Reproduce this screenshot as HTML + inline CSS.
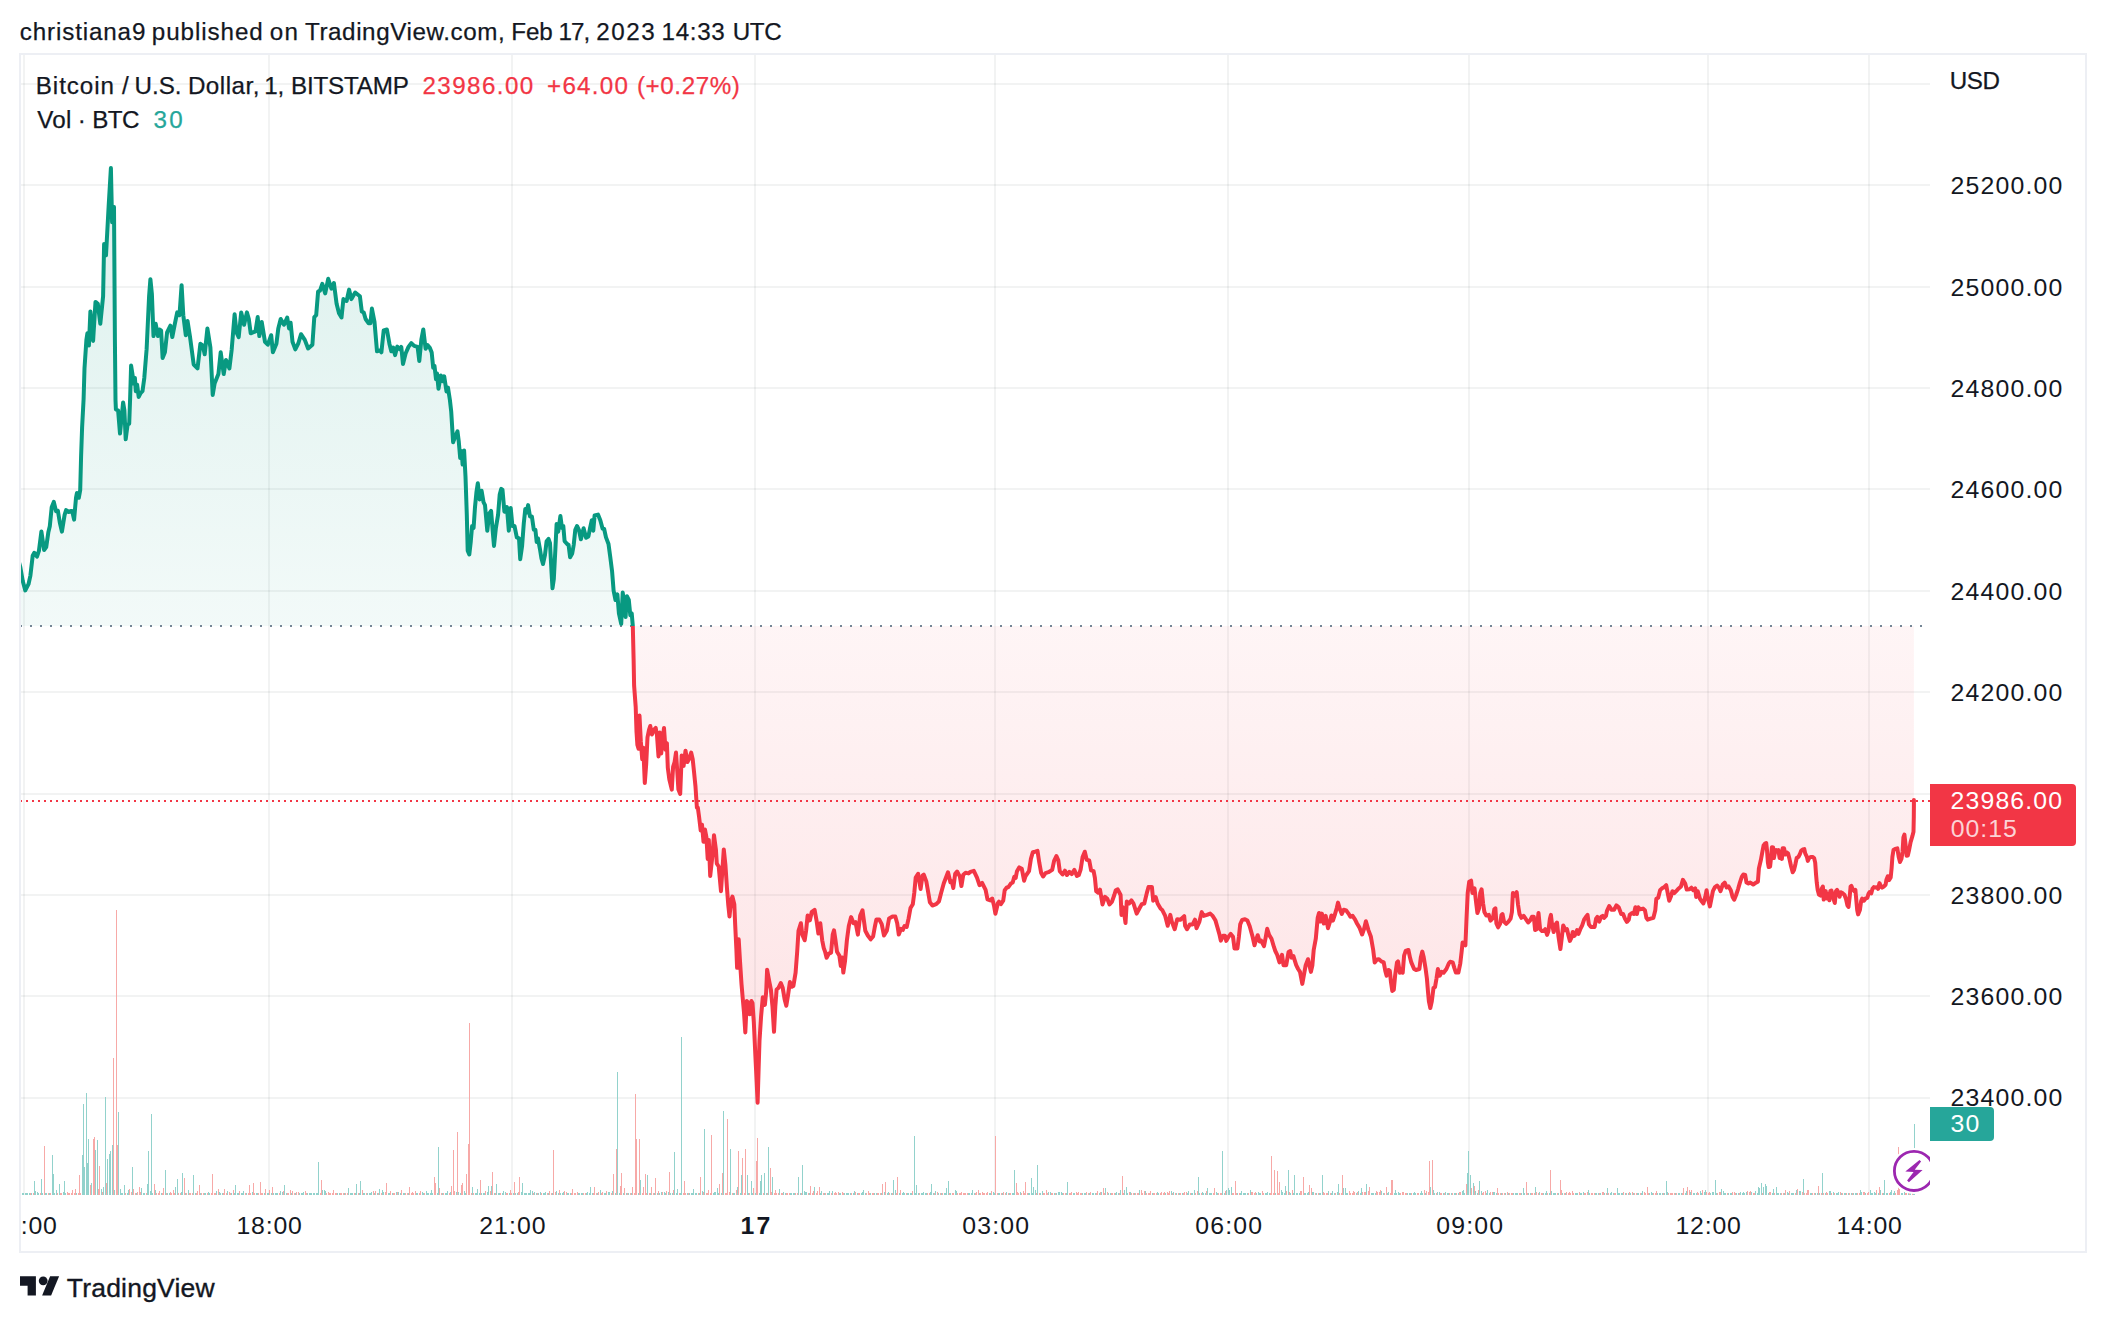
<!DOCTYPE html>
<html lang="en"><head><meta charset="utf-8"><title>BTCUSD chart snapshot</title>
<style>
html,body{margin:0;padding:0;background:#fff}
body{width:2106px;height:1322px;overflow:hidden}
svg{display:block}
text{font-family:"Liberation Sans", sans-serif;font-size:24.8px;fill:#131722}
text.l{font-size:24.2px}
</style></head><body>
<svg width="2106" height="1322" viewBox="0 0 2106 1322">
<defs>
<linearGradient id="gg" gradientUnits="userSpaceOnUse" x1="0" y1="-514" x2="0" y2="626">
<stop offset="0" stop-color="#089981" stop-opacity="0.28"/><stop offset="1" stop-color="#089981" stop-opacity="0.05"/></linearGradient>
<linearGradient id="rg" gradientUnits="userSpaceOnUse" x1="0" y1="626" x2="0" y2="1766">
<stop offset="0" stop-color="#F23645" stop-opacity="0.05"/><stop offset="1" stop-color="#F23645" stop-opacity="0.28"/></linearGradient>
<clipPath id="cTop"><rect x="21" y="55" width="1909" height="571"/></clipPath>
<clipPath id="cBot"><rect x="21" y="626" width="1909" height="569"/></clipPath>
<clipPath id="cPane2"><rect x="0" y="0" width="21" height="1200"/><rect x="21" y="0" width="2085" height="1322"/></clipPath>
<clipPath id="cPane"><rect x="21" y="55" width="1909" height="1198"/></clipPath>
</defs>
<rect width="2106" height="1322" fill="#fff"/>
<rect x="20" y="54" width="2066" height="1198" fill="none" stroke="#edeff4" stroke-width="2"/>
<g fill="rgba(42,46,57,0.06)" clip-path="url(#cPane)"><rect x="23" y="55" width="2" height="1140"/><rect x="268" y="55" width="2" height="1140"/><rect x="511" y="55" width="2" height="1140"/><rect x="754" y="55" width="2" height="1140"/><rect x="994" y="55" width="2" height="1140"/><rect x="1227" y="55" width="2" height="1140"/><rect x="1468" y="55" width="2" height="1140"/><rect x="1707" y="55" width="2" height="1140"/><rect x="1868" y="55" width="2" height="1140"/><rect x="21" y="83" width="1909" height="2"/><rect x="21" y="184" width="1909" height="2"/><rect x="21" y="286" width="1909" height="2"/><rect x="21" y="387" width="1909" height="2"/><rect x="21" y="488" width="1909" height="2"/><rect x="21" y="590" width="1909" height="2"/><rect x="21" y="691" width="1909" height="2"/><rect x="21" y="793" width="1909" height="2"/><rect x="21" y="894" width="1909" height="2"/><rect x="21" y="995" width="1909" height="2"/><rect x="21" y="1097" width="1909" height="2"/></g>
<path d="M22 1195v-2h1v2zM23 1195v-2h1v2zM25 1195v-2h1v2zM26 1195v-2h1v2zM27 1195v-2h1v2zM29 1195v-2h1v2zM31 1195v-2h1v2zM34 1195v-14h1v14zM35 1195v-4h1v4zM37 1195v-3h1v3zM38 1195v-2h1v2zM41 1195v-16h1v16zM42 1195v-2h1v2zM45 1195v-2h1v2zM46 1195v-2h1v2zM49 1195v-2h1v2zM52 1195v-40h1v40zM53 1195v-21h1v21zM54 1195v-2h1v2zM56 1195v-5h1v5zM59 1195v-11h1v11zM63 1195v-3h1v3zM64 1195v-14h1v14zM65 1195v-2h1v2zM76 1195v-2h1v2zM82 1195v-40h1v40zM83 1195v-91h1v91zM84 1195v-28h1v28zM86 1195v-102h1v102zM87 1195v-32h1v32zM88 1195v-56h1v56zM91 1195v-12h1v12zM95 1195v-45h1v45zM97 1195v-55h1v55zM101 1195v-6h1v6zM103 1195v-8h1v8zM105 1195v-98h1v98zM107 1195v-36h1v36zM109 1195v-41h1v41zM110 1195v-44h1v44zM112 1195v-50h1v50zM114 1195v-5h1v5zM118 1195v-83h1v83zM120 1195v-6h1v6zM121 1195v-2h1v2zM122 1195v-2h1v2zM124 1195v-10h1v10zM127 1195v-2h1v2zM128 1195v-5h1v5zM132 1195v-28h1v28zM136 1195v-2h1v2zM141 1195v-7h1v7zM143 1195v-2h1v2zM144 1195v-2h1v2zM147 1195v-11h1v11zM148 1195v-44h1v44zM150 1195v-4h1v4zM151 1195v-81h1v81zM152 1195v-2h1v2zM155 1195v-5h1v5zM161 1195v-2h1v2zM165 1195v-25h1v25zM167 1195v-2h1v2zM169 1195v-2h1v2zM175 1195v-8h1v8zM177 1195v-16h1v16zM181 1195v-3h1v3zM182 1195v-22h1v22zM185 1195v-2h1v2zM188 1195v-5h1v5zM193 1195v-20h1v20zM195 1195v-2h1v2zM200 1195v-2h1v2zM204 1195v-2h1v2zM205 1195v-2h1v2zM208 1195v-3h1v3zM209 1195v-2h1v2zM216 1195v-4h1v4zM219 1195v-3h1v3zM220 1195v-2h1v2zM222 1195v-2h1v2zM227 1195v-4h1v4zM231 1195v-2h1v2zM234 1195v-2h1v2zM235 1195v-10h1v10zM237 1195v-2h1v2zM238 1195v-2h1v2zM241 1195v-2h1v2zM242 1195v-2h1v2zM243 1195v-4h1v4zM246 1195v-2h1v2zM252 1195v-3h1v3zM256 1195v-2h1v2zM257 1195v-2h1v2zM264 1195v-2h1v2zM267 1195v-2h1v2zM268 1195v-2h1v2zM271 1195v-2h1v2zM273 1195v-2h1v2zM275 1195v-2h1v2zM276 1195v-2h1v2zM277 1195v-2h1v2zM280 1195v-4h1v4zM282 1195v-3h1v3zM284 1195v-10h1v10zM286 1195v-2h1v2zM291 1195v-2h1v2zM295 1195v-2h1v2zM299 1195v-2h1v2zM301 1195v-2h1v2zM302 1195v-2h1v2zM303 1195v-3h1v3zM307 1195v-2h1v2zM309 1195v-2h1v2zM310 1195v-2h1v2zM311 1195v-2h1v2zM313 1195v-2h1v2zM314 1195v-2h1v2zM316 1195v-2h1v2zM317 1195v-2h1v2zM318 1195v-33h1v33zM322 1195v-5h1v5zM324 1195v-5h1v5zM325 1195v-4h1v4zM337 1195v-2h1v2zM339 1195v-2h1v2zM344 1195v-2h1v2zM348 1195v-7h1v7zM350 1195v-2h1v2zM351 1195v-2h1v2zM352 1195v-2h1v2zM355 1195v-2h1v2zM356 1195v-11h1v11zM359 1195v-2h1v2zM360 1195v-14h1v14zM363 1195v-2h1v2zM364 1195v-2h1v2zM367 1195v-2h1v2zM369 1195v-2h1v2zM370 1195v-2h1v2zM371 1195v-3h1v3zM374 1195v-2h1v2zM377 1195v-2h1v2zM379 1195v-6h1v6zM382 1195v-5h1v5zM383 1195v-3h1v3zM388 1195v-2h1v2zM389 1195v-2h1v2zM392 1195v-2h1v2zM396 1195v-3h1v3zM398 1195v-3h1v3zM400 1195v-2h1v2zM403 1195v-2h1v2zM404 1195v-2h1v2zM408 1195v-2h1v2zM416 1195v-2h1v2zM417 1195v-2h1v2zM422 1195v-3h1v3zM423 1195v-2h1v2zM426 1195v-4h1v4zM427 1195v-2h1v2zM428 1195v-2h1v2zM430 1195v-2h1v2zM431 1195v-5h1v5zM432 1195v-2h1v2zM437 1195v-2h1v2zM438 1195v-48h1v48zM442 1195v-2h1v2zM445 1195v-2h1v2zM446 1195v-2h1v2zM447 1195v-4h1v4zM450 1195v-3h1v3zM456 1195v-3h1v3zM458 1195v-3h1v3zM460 1195v-2h1v2zM464 1195v-4h1v4zM465 1195v-2h1v2zM472 1195v-8h1v8zM475 1195v-2h1v2zM476 1195v-2h1v2zM477 1195v-6h1v6zM479 1195v-2h1v2zM481 1195v-2h1v2zM483 1195v-2h1v2zM484 1195v-2h1v2zM487 1195v-3h1v3zM488 1195v-9h1v9zM491 1195v-9h1v9zM494 1195v-2h1v2zM496 1195v-11h1v11zM498 1195v-2h1v2zM499 1195v-2h1v2zM502 1195v-2h1v2zM503 1195v-4h1v4zM505 1195v-3h1v3zM509 1195v-2h1v2zM513 1195v-2h1v2zM515 1195v-2h1v2zM517 1195v-2h1v2zM521 1195v-3h1v3zM522 1195v-12h1v12zM524 1195v-2h1v2zM525 1195v-2h1v2zM526 1195v-2h1v2zM528 1195v-2h1v2zM529 1195v-2h1v2zM530 1195v-5h1v5zM532 1195v-4h1v4zM534 1195v-3h1v3zM536 1195v-2h1v2zM538 1195v-2h1v2zM540 1195v-3h1v3zM543 1195v-2h1v2zM544 1195v-2h1v2zM545 1195v-3h1v3zM548 1195v-2h1v2zM552 1195v-2h1v2zM556 1195v-4h1v4zM558 1195v-2h1v2zM560 1195v-2h1v2zM562 1195v-2h1v2zM563 1195v-3h1v3zM567 1195v-2h1v2zM568 1195v-2h1v2zM570 1195v-2h1v2zM578 1195v-2h1v2zM579 1195v-2h1v2zM581 1195v-2h1v2zM582 1195v-2h1v2zM586 1195v-2h1v2zM587 1195v-3h1v3zM589 1195v-2h1v2zM590 1195v-8h1v8zM592 1195v-2h1v2zM597 1195v-2h1v2zM600 1195v-5h1v5zM604 1195v-2h1v2zM605 1195v-2h1v2zM608 1195v-3h1v3zM609 1195v-3h1v3zM612 1195v-4h1v4zM615 1195v-2h1v2zM617 1195v-123h1v123zM619 1195v-2h1v2zM623 1195v-2h1v2zM626 1195v-2h1v2zM628 1195v-2h1v2zM631 1195v-2h1v2zM638 1195v-2h1v2zM640 1195v-15h1v15zM647 1195v-20h1v20zM650 1195v-2h1v2zM654 1195v-2h1v2zM657 1195v-2h1v2zM659 1195v-2h1v2zM661 1195v-3h1v3zM664 1195v-3h1v3zM665 1195v-2h1v2zM668 1195v-3h1v3zM670 1195v-2h1v2zM672 1195v-2h1v2zM674 1195v-43h1v43zM676 1195v-2h1v2zM677 1195v-6h1v6zM680 1195v-2h1v2zM681 1195v-158h1v158zM687 1195v-2h1v2zM689 1195v-2h1v2zM691 1195v-2h1v2zM692 1195v-2h1v2zM693 1195v-6h1v6zM695 1195v-2h1v2zM696 1195v-2h1v2zM699 1195v-2h1v2zM702 1195v-4h1v4zM704 1195v-66h1v66zM713 1195v-2h1v2zM714 1195v-3h1v3zM715 1195v-3h1v3zM717 1195v-7h1v7zM718 1195v-2h1v2zM721 1195v-2h1v2zM723 1195v-84h1v84zM730 1195v-46h1v46zM733 1195v-2h1v2zM734 1195v-2h1v2zM737 1195v-8h1v8zM740 1195v-2h1v2zM741 1195v-20h1v20zM747 1195v-20h1v20zM748 1195v-2h1v2zM751 1195v-14h1v14zM752 1195v-2h1v2zM755 1195v-2h1v2zM759 1195v-2h1v2zM760 1195v-14h1v14zM761 1195v-20h1v20zM764 1195v-22h1v22zM766 1195v-2h1v2zM768 1195v-48h1v48zM772 1195v-18h1v18zM779 1195v-6h1v6zM783 1195v-3h1v3zM785 1195v-2h1v2zM790 1195v-2h1v2zM791 1195v-2h1v2zM793 1195v-2h1v2zM794 1195v-2h1v2zM798 1195v-18h1v18zM800 1195v-2h1v2zM802 1195v-30h1v30zM804 1195v-4h1v4zM805 1195v-3h1v3zM806 1195v-3h1v3zM809 1195v-2h1v2zM814 1195v-8h1v8zM820 1195v-2h1v2zM821 1195v-4h1v4zM824 1195v-2h1v2zM827 1195v-2h1v2zM828 1195v-2h1v2zM829 1195v-4h1v4zM832 1195v-4h1v4zM839 1195v-2h1v2zM840 1195v-2h1v2zM844 1195v-2h1v2zM846 1195v-2h1v2zM847 1195v-2h1v2zM848 1195v-2h1v2zM850 1195v-2h1v2zM853 1195v-2h1v2zM854 1195v-4h1v4zM857 1195v-2h1v2zM861 1195v-2h1v2zM862 1195v-3h1v3zM863 1195v-5h1v5zM865 1195v-2h1v2zM870 1195v-2h1v2zM874 1195v-2h1v2zM876 1195v-2h1v2zM881 1195v-2h1v2zM884 1195v-3h1v3zM887 1195v-2h1v2zM888 1195v-3h1v3zM891 1195v-2h1v2zM893 1195v-15h1v15zM895 1195v-5h1v5zM899 1195v-2h1v2zM902 1195v-2h1v2zM903 1195v-3h1v3zM904 1195v-2h1v2zM907 1195v-2h1v2zM908 1195v-2h1v2zM910 1195v-2h1v2zM911 1195v-2h1v2zM914 1195v-59h1v59zM915 1195v-2h1v2zM916 1195v-10h1v10zM918 1195v-2h1v2zM921 1195v-2h1v2zM922 1195v-2h1v2zM923 1195v-3h1v3zM925 1195v-2h1v2zM926 1195v-2h1v2zM930 1195v-3h1v3zM931 1195v-11h1v11zM933 1195v-2h1v2zM935 1195v-4h1v4zM938 1195v-2h1v2zM941 1195v-2h1v2zM944 1195v-2h1v2zM945 1195v-2h1v2zM946 1195v-7h1v7zM948 1195v-14h1v14zM950 1195v-2h1v2zM955 1195v-5h1v5zM956 1195v-4h1v4zM968 1195v-2h1v2zM969 1195v-2h1v2zM971 1195v-2h1v2zM972 1195v-5h1v5zM974 1195v-2h1v2zM979 1195v-2h1v2zM989 1195v-2h1v2zM990 1195v-2h1v2zM993 1195v-3h1v3zM994 1195v-2h1v2zM998 1195v-2h1v2zM999 1195v-2h1v2zM1002 1195v-2h1v2zM1006 1195v-3h1v3zM1009 1195v-2h1v2zM1012 1195v-2h1v2zM1013 1195v-2h1v2zM1014 1195v-25h1v25zM1020 1195v-3h1v3zM1028 1195v-2h1v2zM1029 1195v-2h1v2zM1031 1195v-17h1v17zM1032 1195v-2h1v2zM1033 1195v-8h1v8zM1035 1195v-5h1v5zM1037 1195v-30h1v30zM1040 1195v-2h1v2zM1042 1195v-4h1v4zM1048 1195v-3h1v3zM1050 1195v-3h1v3zM1054 1195v-2h1v2zM1056 1195v-2h1v2zM1058 1195v-3h1v3zM1059 1195v-3h1v3zM1061 1195v-3h1v3zM1062 1195v-2h1v2zM1066 1195v-2h1v2zM1067 1195v-13h1v13zM1073 1195v-2h1v2zM1074 1195v-2h1v2zM1082 1195v-2h1v2zM1084 1195v-2h1v2zM1085 1195v-2h1v2zM1089 1195v-2h1v2zM1092 1195v-2h1v2zM1093 1195v-2h1v2zM1095 1195v-2h1v2zM1099 1195v-2h1v2zM1101 1195v-3h1v3zM1105 1195v-7h1v7zM1108 1195v-2h1v2zM1110 1195v-2h1v2zM1115 1195v-2h1v2zM1116 1195v-3h1v3zM1118 1195v-2h1v2zM1120 1195v-5h1v5zM1124 1195v-5h1v5zM1126 1195v-8h1v8zM1127 1195v-2h1v2zM1130 1195v-3h1v3zM1134 1195v-2h1v2zM1139 1195v-5h1v5zM1145 1195v-4h1v4zM1152 1195v-2h1v2zM1157 1195v-3h1v3zM1158 1195v-2h1v2zM1165 1195v-2h1v2zM1171 1195v-4h1v4zM1173 1195v-3h1v3zM1176 1195v-2h1v2zM1179 1195v-2h1v2zM1182 1195v-2h1v2zM1187 1195v-2h1v2zM1188 1195v-4h1v4zM1191 1195v-2h1v2zM1192 1195v-2h1v2zM1194 1195v-5h1v5zM1198 1195v-18h1v18zM1199 1195v-2h1v2zM1202 1195v-3h1v3zM1203 1195v-2h1v2zM1205 1195v-2h1v2zM1207 1195v-7h1v7zM1209 1195v-2h1v2zM1210 1195v-2h1v2zM1211 1195v-2h1v2zM1216 1195v-3h1v3zM1217 1195v-2h1v2zM1222 1195v-44h1v44zM1224 1195v-2h1v2zM1226 1195v-5h1v5zM1228 1195v-7h1v7zM1229 1195v-5h1v5zM1231 1195v-8h1v8zM1237 1195v-2h1v2zM1240 1195v-2h1v2zM1241 1195v-4h1v4zM1243 1195v-2h1v2zM1244 1195v-2h1v2zM1245 1195v-2h1v2zM1247 1195v-2h1v2zM1250 1195v-5h1v5zM1256 1195v-2h1v2zM1258 1195v-3h1v3zM1259 1195v-2h1v2zM1260 1195v-2h1v2zM1265 1195v-2h1v2zM1266 1195v-2h1v2zM1267 1195v-3h1v3zM1269 1195v-2h1v2zM1275 1195v-2h1v2zM1281 1195v-5h1v5zM1282 1195v-3h1v3zM1284 1195v-2h1v2zM1285 1195v-9h1v9zM1288 1195v-25h1v25zM1290 1195v-2h1v2zM1293 1195v-2h1v2zM1294 1195v-20h1v20zM1296 1195v-2h1v2zM1297 1195v-2h1v2zM1299 1195v-2h1v2zM1304 1195v-2h1v2zM1305 1195v-2h1v2zM1307 1195v-2h1v2zM1308 1195v-3h1v3zM1312 1195v-3h1v3zM1313 1195v-3h1v3zM1316 1195v-2h1v2zM1319 1195v-2h1v2zM1320 1195v-2h1v2zM1322 1195v-20h1v20zM1328 1195v-4h1v4zM1331 1195v-2h1v2zM1332 1195v-4h1v4zM1334 1195v-2h1v2zM1337 1195v-3h1v3zM1338 1195v-11h1v11zM1343 1195v-7h1v7zM1345 1195v-7h1v7zM1346 1195v-2h1v2zM1347 1195v-2h1v2zM1356 1195v-2h1v2zM1358 1195v-4h1v4zM1360 1195v-2h1v2zM1361 1195v-7h1v7zM1366 1195v-11h1v11zM1371 1195v-2h1v2zM1372 1195v-2h1v2zM1373 1195v-2h1v2zM1375 1195v-2h1v2zM1381 1195v-4h1v4zM1383 1195v-2h1v2zM1387 1195v-2h1v2zM1388 1195v-3h1v3zM1394 1195v-2h1v2zM1395 1195v-5h1v5zM1396 1195v-2h1v2zM1398 1195v-3h1v3zM1399 1195v-2h1v2zM1407 1195v-2h1v2zM1409 1195v-2h1v2zM1410 1195v-2h1v2zM1413 1195v-2h1v2zM1414 1195v-3h1v3zM1415 1195v-2h1v2zM1420 1195v-2h1v2zM1421 1195v-4h1v4zM1422 1195v-2h1v2zM1425 1195v-2h1v2zM1430 1195v-8h1v8zM1433 1195v-5h1v5zM1434 1195v-2h1v2zM1437 1195v-3h1v3zM1439 1195v-3h1v3zM1443 1195v-2h1v2zM1445 1195v-3h1v3zM1447 1195v-2h1v2zM1448 1195v-2h1v2zM1451 1195v-2h1v2zM1454 1195v-2h1v2zM1455 1195v-2h1v2zM1458 1195v-2h1v2zM1462 1195v-4h1v4zM1463 1195v-5h1v5zM1464 1195v-2h1v2zM1467 1195v-22h1v22zM1468 1195v-44h1v44zM1470 1195v-20h1v20zM1473 1195v-12h1v12zM1475 1195v-4h1v4zM1477 1195v-2h1v2zM1479 1195v-14h1v14zM1481 1195v-4h1v4zM1486 1195v-2h1v2zM1487 1195v-5h1v5zM1489 1195v-2h1v2zM1493 1195v-3h1v3zM1494 1195v-3h1v3zM1496 1195v-2h1v2zM1501 1195v-2h1v2zM1505 1195v-2h1v2zM1508 1195v-2h1v2zM1513 1195v-2h1v2zM1515 1195v-2h1v2zM1516 1195v-2h1v2zM1517 1195v-2h1v2zM1521 1195v-2h1v2zM1523 1195v-7h1v7zM1524 1195v-2h1v2zM1528 1195v-2h1v2zM1530 1195v-2h1v2zM1535 1195v-8h1v8zM1539 1195v-3h1v3zM1543 1195v-2h1v2zM1545 1195v-2h1v2zM1546 1195v-4h1v4zM1549 1195v-2h1v2zM1551 1195v-4h1v4zM1553 1195v-2h1v2zM1554 1195v-2h1v2zM1555 1195v-2h1v2zM1558 1195v-2h1v2zM1562 1195v-2h1v2zM1565 1195v-2h1v2zM1575 1195v-2h1v2zM1576 1195v-2h1v2zM1577 1195v-2h1v2zM1580 1195v-2h1v2zM1581 1195v-2h1v2zM1583 1195v-3h1v3zM1588 1195v-5h1v5zM1589 1195v-2h1v2zM1595 1195v-2h1v2zM1596 1195v-2h1v2zM1598 1195v-2h1v2zM1600 1195v-2h1v2zM1604 1195v-2h1v2zM1607 1195v-7h1v7zM1610 1195v-2h1v2zM1611 1195v-3h1v3zM1613 1195v-2h1v2zM1617 1195v-7h1v7zM1618 1195v-2h1v2zM1619 1195v-2h1v2zM1621 1195v-2h1v2zM1622 1195v-2h1v2zM1625 1195v-2h1v2zM1628 1195v-2h1v2zM1630 1195v-2h1v2zM1633 1195v-2h1v2zM1637 1195v-2h1v2zM1638 1195v-2h1v2zM1641 1195v-2h1v2zM1642 1195v-4h1v4zM1649 1195v-2h1v2zM1651 1195v-3h1v3zM1652 1195v-2h1v2zM1657 1195v-2h1v2zM1659 1195v-2h1v2zM1660 1195v-2h1v2zM1662 1195v-2h1v2zM1664 1195v-2h1v2zM1666 1195v-14h1v14zM1667 1195v-3h1v3zM1675 1195v-2h1v2zM1678 1195v-2h1v2zM1679 1195v-2h1v2zM1681 1195v-2h1v2zM1685 1195v-2h1v2zM1686 1195v-4h1v4zM1690 1195v-3h1v3zM1693 1195v-2h1v2zM1694 1195v-2h1v2zM1696 1195v-2h1v2zM1700 1195v-4h1v4zM1701 1195v-2h1v2zM1704 1195v-3h1v3zM1705 1195v-5h1v5zM1710 1195v-2h1v2zM1712 1195v-3h1v3zM1713 1195v-3h1v3zM1715 1195v-15h1v15zM1716 1195v-2h1v2zM1721 1195v-6h1v6zM1723 1195v-4h1v4zM1724 1195v-2h1v2zM1725 1195v-2h1v2zM1728 1195v-2h1v2zM1730 1195v-2h1v2zM1731 1195v-2h1v2zM1736 1195v-2h1v2zM1738 1195v-2h1v2zM1740 1195v-3h1v3zM1742 1195v-2h1v2zM1743 1195v-3h1v3zM1744 1195v-2h1v2zM1746 1195v-3h1v3zM1751 1195v-3h1v3zM1755 1195v-4h1v4zM1757 1195v-2h1v2zM1758 1195v-8h1v8zM1759 1195v-7h1v7zM1761 1195v-12h1v12zM1763 1195v-8h1v8zM1765 1195v-11h1v11zM1766 1195v-9h1v9zM1768 1195v-2h1v2zM1772 1195v-2h1v2zM1773 1195v-6h1v6zM1776 1195v-8h1v8zM1777 1195v-2h1v2zM1778 1195v-2h1v2zM1780 1195v-2h1v2zM1784 1195v-2h1v2zM1787 1195v-3h1v3zM1788 1195v-2h1v2zM1791 1195v-2h1v2zM1792 1195v-2h1v2zM1793 1195v-2h1v2zM1796 1195v-5h1v5zM1799 1195v-4h1v4zM1800 1195v-4h1v4zM1803 1195v-16h1v16zM1810 1195v-2h1v2zM1811 1195v-2h1v2zM1815 1195v-2h1v2zM1817 1195v-2h1v2zM1819 1195v-2h1v2zM1822 1195v-22h1v22zM1825 1195v-2h1v2zM1829 1195v-4h1v4zM1830 1195v-4h1v4zM1833 1195v-3h1v3zM1836 1195v-2h1v2zM1837 1195v-2h1v2zM1838 1195v-3h1v3zM1841 1195v-2h1v2zM1844 1195v-2h1v2zM1845 1195v-2h1v2zM1848 1195v-2h1v2zM1851 1195v-2h1v2zM1853 1195v-2h1v2zM1855 1195v-2h1v2zM1856 1195v-2h1v2zM1860 1195v-5h1v5zM1861 1195v-3h1v3zM1865 1195v-2h1v2zM1870 1195v-5h1v5zM1871 1195v-2h1v2zM1872 1195v-2h1v2zM1874 1195v-3h1v3zM1875 1195v-2h1v2zM1878 1195v-2h1v2zM1880 1195v-5h1v5zM1883 1195v-2h1v2zM1884 1195v-15h1v15zM1886 1195v-2h1v2zM1887 1195v-2h1v2zM1890 1195v-3h1v3zM1891 1195v-5h1v5zM1893 1195v-2h1v2zM1894 1195v-4h1v4zM1901 1195v-2h1v2zM1902 1195v-2h1v2zM1904 1195v-3h1v3zM1908 1195v-2h1v2zM1910 1195v-2h1v2zM1913 1195v-2h1v2zM1914 1195v-71h1v71z" fill="#92D2CC"/>
<path d="M30 1195v-2h1v2zM33 1195v-2h1v2zM40 1195v-2h1v2zM44 1195v-49h1v49zM48 1195v-2h1v2zM50 1195v-2h1v2zM57 1195v-2h1v2zM60 1195v-2h1v2zM61 1195v-2h1v2zM67 1195v-3h1v3zM68 1195v-2h1v2zM69 1195v-2h1v2zM71 1195v-2h1v2zM72 1195v-5h1v5zM74 1195v-2h1v2zM75 1195v-6h1v6zM78 1195v-2h1v2zM79 1195v-20h1v20zM80 1195v-2h1v2zM90 1195v-10h1v10zM93 1195v-56h1v56zM94 1195v-58h1v58zM98 1195v-6h1v6zM99 1195v-29h1v29zM102 1195v-3h1v3zM106 1195v-12h1v12zM113 1195v-137h1v137zM116 1195v-285h1v285zM117 1195v-50h1v50zM125 1195v-2h1v2zM129 1195v-6h1v6zM131 1195v-3h1v3zM133 1195v-6h1v6zM135 1195v-2h1v2zM137 1195v-3h1v3zM139 1195v-8h1v8zM140 1195v-3h1v3zM146 1195v-2h1v2zM154 1195v-11h1v11zM156 1195v-2h1v2zM158 1195v-2h1v2zM159 1195v-4h1v4zM162 1195v-2h1v2zM163 1195v-7h1v7zM166 1195v-2h1v2zM170 1195v-3h1v3zM171 1195v-2h1v2zM173 1195v-5h1v5zM174 1195v-2h1v2zM178 1195v-2h1v2zM180 1195v-2h1v2zM184 1195v-17h1v17zM186 1195v-2h1v2zM189 1195v-2h1v2zM190 1195v-2h1v2zM192 1195v-2h1v2zM196 1195v-2h1v2zM197 1195v-4h1v4zM199 1195v-10h1v10zM201 1195v-2h1v2zM203 1195v-2h1v2zM207 1195v-2h1v2zM211 1195v-2h1v2zM212 1195v-21h1v21zM214 1195v-2h1v2zM215 1195v-2h1v2zM218 1195v-6h1v6zM223 1195v-2h1v2zM224 1195v-6h1v6zM226 1195v-2h1v2zM229 1195v-3h1v3zM230 1195v-2h1v2zM233 1195v-5h1v5zM239 1195v-4h1v4zM245 1195v-2h1v2zM248 1195v-2h1v2zM249 1195v-10h1v10zM250 1195v-2h1v2zM253 1195v-12h1v12zM254 1195v-2h1v2zM258 1195v-2h1v2zM260 1195v-13h1v13zM261 1195v-2h1v2zM262 1195v-2h1v2zM265 1195v-6h1v6zM269 1195v-5h1v5zM272 1195v-8h1v8zM279 1195v-2h1v2zM283 1195v-4h1v4zM287 1195v-2h1v2zM288 1195v-2h1v2zM290 1195v-5h1v5zM292 1195v-4h1v4zM294 1195v-2h1v2zM296 1195v-3h1v3zM298 1195v-3h1v3zM305 1195v-4h1v4zM306 1195v-2h1v2zM320 1195v-2h1v2zM321 1195v-15h1v15zM326 1195v-2h1v2zM328 1195v-3h1v3zM329 1195v-2h1v2zM330 1195v-2h1v2zM332 1195v-2h1v2zM333 1195v-5h1v5zM335 1195v-2h1v2zM336 1195v-2h1v2zM340 1195v-2h1v2zM341 1195v-2h1v2zM343 1195v-2h1v2zM345 1195v-2h1v2zM347 1195v-2h1v2zM354 1195v-2h1v2zM358 1195v-2h1v2zM362 1195v-5h1v5zM366 1195v-2h1v2zM373 1195v-4h1v4zM375 1195v-4h1v4zM378 1195v-2h1v2zM381 1195v-2h1v2zM385 1195v-3h1v3zM386 1195v-12h1v12zM390 1195v-4h1v4zM393 1195v-2h1v2zM394 1195v-2h1v2zM397 1195v-3h1v3zM401 1195v-5h1v5zM405 1195v-2h1v2zM407 1195v-2h1v2zM409 1195v-8h1v8zM411 1195v-2h1v2zM412 1195v-3h1v3zM413 1195v-2h1v2zM415 1195v-4h1v4zM419 1195v-2h1v2zM420 1195v-4h1v4zM424 1195v-2h1v2zM434 1195v-18h1v18zM435 1195v-12h1v12zM439 1195v-7h1v7zM441 1195v-2h1v2zM443 1195v-2h1v2zM449 1195v-2h1v2zM451 1195v-9h1v9zM453 1195v-45h1v45zM454 1195v-4h1v4zM457 1195v-63h1v63zM461 1195v-10h1v10zM462 1195v-12h1v12zM466 1195v-21h1v21zM468 1195v-51h1v51zM469 1195v-172h1v172zM471 1195v-2h1v2zM473 1195v-2h1v2zM480 1195v-15h1v15zM485 1195v-4h1v4zM490 1195v-4h1v4zM492 1195v-23h1v23zM495 1195v-2h1v2zM500 1195v-2h1v2zM506 1195v-2h1v2zM507 1195v-2h1v2zM510 1195v-5h1v5zM511 1195v-2h1v2zM514 1195v-13h1v13zM518 1195v-3h1v3zM519 1195v-18h1v18zM533 1195v-2h1v2zM537 1195v-2h1v2zM541 1195v-2h1v2zM547 1195v-2h1v2zM549 1195v-4h1v4zM551 1195v-2h1v2zM553 1195v-45h1v45zM555 1195v-3h1v3zM559 1195v-5h1v5zM564 1195v-4h1v4zM566 1195v-3h1v3zM571 1195v-2h1v2zM572 1195v-6h1v6zM574 1195v-2h1v2zM575 1195v-2h1v2zM577 1195v-3h1v3zM583 1195v-2h1v2zM585 1195v-2h1v2zM593 1195v-2h1v2zM594 1195v-8h1v8zM596 1195v-2h1v2zM598 1195v-3h1v3zM601 1195v-2h1v2zM602 1195v-3h1v3zM606 1195v-4h1v4zM611 1195v-2h1v2zM613 1195v-21h1v21zM616 1195v-46h1v46zM620 1195v-9h1v9zM621 1195v-22h1v22zM624 1195v-7h1v7zM627 1195v-2h1v2zM630 1195v-2h1v2zM632 1195v-8h1v8zM634 1195v-2h1v2zM635 1195v-101h1v101zM636 1195v-56h1v56zM639 1195v-56h1v56zM642 1195v-2h1v2zM643 1195v-8h1v8zM645 1195v-21h1v21zM646 1195v-2h1v2zM649 1195v-2h1v2zM651 1195v-8h1v8zM653 1195v-2h1v2zM655 1195v-17h1v17zM658 1195v-4h1v4zM662 1195v-3h1v3zM666 1195v-4h1v4zM669 1195v-23h1v23zM673 1195v-5h1v5zM679 1195v-2h1v2zM683 1195v-2h1v2zM684 1195v-14h1v14zM685 1195v-2h1v2zM688 1195v-2h1v2zM698 1195v-2h1v2zM700 1195v-18h1v18zM703 1195v-3h1v3zM706 1195v-2h1v2zM707 1195v-2h1v2zM708 1195v-5h1v5zM710 1195v-2h1v2zM711 1195v-60h1v60zM719 1195v-11h1v11zM722 1195v-22h1v22zM725 1195v-2h1v2zM726 1195v-2h1v2zM727 1195v-76h1v76zM729 1195v-3h1v3zM732 1195v-2h1v2zM736 1195v-5h1v5zM738 1195v-44h1v44zM742 1195v-37h1v37zM744 1195v-2h1v2zM745 1195v-46h1v46zM749 1195v-2h1v2zM753 1195v-7h1v7zM756 1195v-34h1v34zM757 1195v-57h1v57zM763 1195v-2h1v2zM767 1195v-2h1v2zM770 1195v-27h1v27zM771 1195v-3h1v3zM774 1195v-2h1v2zM775 1195v-5h1v5zM776 1195v-2h1v2zM778 1195v-2h1v2zM781 1195v-2h1v2zM782 1195v-2h1v2zM786 1195v-2h1v2zM787 1195v-2h1v2zM789 1195v-2h1v2zM795 1195v-2h1v2zM797 1195v-2h1v2zM801 1195v-2h1v2zM808 1195v-2h1v2zM810 1195v-9h1v9zM812 1195v-2h1v2zM813 1195v-4h1v4zM816 1195v-2h1v2zM817 1195v-4h1v4zM819 1195v-8h1v8zM823 1195v-2h1v2zM825 1195v-2h1v2zM831 1195v-2h1v2zM834 1195v-2h1v2zM835 1195v-3h1v3zM836 1195v-2h1v2zM838 1195v-3h1v3zM842 1195v-3h1v3zM843 1195v-2h1v2zM851 1195v-2h1v2zM855 1195v-3h1v3zM858 1195v-2h1v2zM859 1195v-2h1v2zM866 1195v-2h1v2zM868 1195v-4h1v4zM869 1195v-2h1v2zM872 1195v-2h1v2zM873 1195v-2h1v2zM877 1195v-2h1v2zM878 1195v-2h1v2zM880 1195v-2h1v2zM882 1195v-11h1v11zM885 1195v-13h1v13zM889 1195v-2h1v2zM892 1195v-2h1v2zM896 1195v-2h1v2zM897 1195v-18h1v18zM900 1195v-5h1v5zM906 1195v-2h1v2zM912 1195v-4h1v4zM919 1195v-2h1v2zM927 1195v-2h1v2zM929 1195v-2h1v2zM934 1195v-2h1v2zM937 1195v-3h1v3zM940 1195v-2h1v2zM942 1195v-2h1v2zM949 1195v-2h1v2zM952 1195v-2h1v2zM953 1195v-2h1v2zM957 1195v-2h1v2zM959 1195v-2h1v2zM960 1195v-2h1v2zM961 1195v-3h1v3zM963 1195v-2h1v2zM964 1195v-2h1v2zM965 1195v-2h1v2zM967 1195v-2h1v2zM975 1195v-2h1v2zM976 1195v-3h1v3zM978 1195v-5h1v5zM980 1195v-2h1v2zM982 1195v-3h1v3zM983 1195v-2h1v2zM984 1195v-2h1v2zM986 1195v-2h1v2zM987 1195v-3h1v3zM991 1195v-4h1v4zM995 1195v-59h1v59zM997 1195v-2h1v2zM1001 1195v-2h1v2zM1003 1195v-3h1v3zM1005 1195v-2h1v2zM1008 1195v-2h1v2zM1010 1195v-2h1v2zM1016 1195v-12h1v12zM1017 1195v-3h1v3zM1018 1195v-2h1v2zM1021 1195v-2h1v2zM1023 1195v-4h1v4zM1024 1195v-2h1v2zM1025 1195v-13h1v13zM1027 1195v-2h1v2zM1036 1195v-2h1v2zM1039 1195v-2h1v2zM1043 1195v-2h1v2zM1044 1195v-2h1v2zM1046 1195v-5h1v5zM1047 1195v-2h1v2zM1051 1195v-2h1v2zM1052 1195v-2h1v2zM1055 1195v-2h1v2zM1063 1195v-2h1v2zM1065 1195v-2h1v2zM1069 1195v-2h1v2zM1070 1195v-2h1v2zM1071 1195v-3h1v3zM1076 1195v-3h1v3zM1077 1195v-2h1v2zM1078 1195v-3h1v3zM1080 1195v-2h1v2zM1081 1195v-2h1v2zM1086 1195v-3h1v3zM1088 1195v-2h1v2zM1090 1195v-3h1v3zM1096 1195v-2h1v2zM1097 1195v-4h1v4zM1100 1195v-3h1v3zM1103 1195v-7h1v7zM1104 1195v-2h1v2zM1107 1195v-3h1v3zM1111 1195v-2h1v2zM1112 1195v-2h1v2zM1114 1195v-2h1v2zM1119 1195v-2h1v2zM1122 1195v-19h1v19zM1123 1195v-2h1v2zM1129 1195v-3h1v3zM1131 1195v-2h1v2zM1133 1195v-2h1v2zM1135 1195v-2h1v2zM1137 1195v-2h1v2zM1138 1195v-2h1v2zM1141 1195v-5h1v5zM1142 1195v-2h1v2zM1144 1195v-4h1v4zM1146 1195v-2h1v2zM1148 1195v-2h1v2zM1149 1195v-2h1v2zM1150 1195v-4h1v4zM1153 1195v-2h1v2zM1154 1195v-2h1v2zM1156 1195v-2h1v2zM1160 1195v-2h1v2zM1161 1195v-3h1v3zM1163 1195v-2h1v2zM1164 1195v-3h1v3zM1167 1195v-3h1v3zM1168 1195v-2h1v2zM1169 1195v-4h1v4zM1172 1195v-2h1v2zM1175 1195v-2h1v2zM1178 1195v-2h1v2zM1180 1195v-2h1v2zM1183 1195v-2h1v2zM1184 1195v-3h1v3zM1186 1195v-3h1v3zM1190 1195v-2h1v2zM1195 1195v-2h1v2zM1197 1195v-4h1v4zM1201 1195v-2h1v2zM1206 1195v-4h1v4zM1213 1195v-2h1v2zM1214 1195v-7h1v7zM1218 1195v-2h1v2zM1220 1195v-2h1v2zM1221 1195v-2h1v2zM1225 1195v-4h1v4zM1232 1195v-2h1v2zM1233 1195v-2h1v2zM1235 1195v-14h1v14zM1236 1195v-2h1v2zM1239 1195v-2h1v2zM1248 1195v-2h1v2zM1251 1195v-3h1v3zM1252 1195v-3h1v3zM1254 1195v-2h1v2zM1255 1195v-3h1v3zM1262 1195v-4h1v4zM1263 1195v-2h1v2zM1270 1195v-2h1v2zM1271 1195v-39h1v39zM1273 1195v-2h1v2zM1274 1195v-25h1v25zM1277 1195v-24h1v24zM1278 1195v-2h1v2zM1279 1195v-13h1v13zM1286 1195v-4h1v4zM1289 1195v-3h1v3zM1292 1195v-5h1v5zM1300 1195v-4h1v4zM1301 1195v-4h1v4zM1303 1195v-18h1v18zM1309 1195v-10h1v10zM1311 1195v-7h1v7zM1315 1195v-2h1v2zM1318 1195v-2h1v2zM1323 1195v-3h1v3zM1324 1195v-2h1v2zM1326 1195v-2h1v2zM1327 1195v-2h1v2zM1330 1195v-2h1v2zM1335 1195v-2h1v2zM1339 1195v-2h1v2zM1341 1195v-2h1v2zM1342 1195v-20h1v20zM1349 1195v-4h1v4zM1350 1195v-2h1v2zM1352 1195v-2h1v2zM1353 1195v-4h1v4zM1354 1195v-3h1v3zM1357 1195v-3h1v3zM1362 1195v-3h1v3zM1364 1195v-3h1v3zM1365 1195v-3h1v3zM1368 1195v-4h1v4zM1369 1195v-8h1v8zM1376 1195v-4h1v4zM1377 1195v-3h1v3zM1379 1195v-3h1v3zM1380 1195v-5h1v5zM1384 1195v-2h1v2zM1386 1195v-8h1v8zM1390 1195v-2h1v2zM1391 1195v-15h1v15zM1392 1195v-15h1v15zM1400 1195v-2h1v2zM1402 1195v-3h1v3zM1403 1195v-3h1v3zM1405 1195v-2h1v2zM1406 1195v-2h1v2zM1411 1195v-2h1v2zM1417 1195v-2h1v2zM1418 1195v-2h1v2zM1424 1195v-5h1v5zM1426 1195v-4h1v4zM1428 1195v-3h1v3zM1429 1195v-34h1v34zM1432 1195v-35h1v35zM1436 1195v-2h1v2zM1440 1195v-2h1v2zM1441 1195v-2h1v2zM1444 1195v-2h1v2zM1449 1195v-2h1v2zM1452 1195v-2h1v2zM1456 1195v-2h1v2zM1459 1195v-3h1v3zM1460 1195v-3h1v3zM1466 1195v-11h1v11zM1471 1195v-7h1v7zM1474 1195v-9h1v9zM1478 1195v-5h1v5zM1482 1195v-2h1v2zM1483 1195v-3h1v3zM1485 1195v-4h1v4zM1490 1195v-3h1v3zM1492 1195v-3h1v3zM1497 1195v-7h1v7zM1498 1195v-2h1v2zM1500 1195v-2h1v2zM1502 1195v-2h1v2zM1504 1195v-2h1v2zM1507 1195v-3h1v3zM1509 1195v-2h1v2zM1511 1195v-2h1v2zM1512 1195v-2h1v2zM1519 1195v-2h1v2zM1520 1195v-2h1v2zM1526 1195v-13h1v13zM1527 1195v-2h1v2zM1531 1195v-2h1v2zM1532 1195v-2h1v2zM1534 1195v-2h1v2zM1536 1195v-3h1v3zM1538 1195v-2h1v2zM1541 1195v-2h1v2zM1542 1195v-2h1v2zM1547 1195v-2h1v2zM1550 1195v-25h1v25zM1557 1195v-2h1v2zM1560 1195v-15h1v15zM1561 1195v-5h1v5zM1564 1195v-2h1v2zM1566 1195v-3h1v3zM1568 1195v-2h1v2zM1569 1195v-3h1v3zM1570 1195v-2h1v2zM1572 1195v-4h1v4zM1573 1195v-2h1v2zM1579 1195v-3h1v3zM1584 1195v-2h1v2zM1585 1195v-2h1v2zM1587 1195v-3h1v3zM1591 1195v-2h1v2zM1592 1195v-2h1v2zM1594 1195v-2h1v2zM1599 1195v-2h1v2zM1602 1195v-3h1v3zM1603 1195v-3h1v3zM1606 1195v-2h1v2zM1608 1195v-2h1v2zM1614 1195v-2h1v2zM1615 1195v-2h1v2zM1623 1195v-3h1v3zM1626 1195v-2h1v2zM1629 1195v-3h1v3zM1632 1195v-3h1v3zM1634 1195v-2h1v2zM1636 1195v-2h1v2zM1640 1195v-2h1v2zM1644 1195v-3h1v3zM1645 1195v-2h1v2zM1647 1195v-8h1v8zM1648 1195v-2h1v2zM1653 1195v-2h1v2zM1655 1195v-2h1v2zM1656 1195v-4h1v4zM1663 1195v-2h1v2zM1668 1195v-2h1v2zM1670 1195v-2h1v2zM1671 1195v-2h1v2zM1672 1195v-2h1v2zM1674 1195v-2h1v2zM1676 1195v-2h1v2zM1682 1195v-2h1v2zM1683 1195v-7h1v7zM1687 1195v-8h1v8zM1689 1195v-5h1v5zM1691 1195v-5h1v5zM1697 1195v-3h1v3zM1698 1195v-2h1v2zM1702 1195v-5h1v5zM1706 1195v-3h1v3zM1708 1195v-2h1v2zM1709 1195v-3h1v3zM1717 1195v-2h1v2zM1719 1195v-3h1v3zM1720 1195v-3h1v3zM1727 1195v-2h1v2zM1732 1195v-3h1v3zM1734 1195v-3h1v3zM1735 1195v-2h1v2zM1739 1195v-2h1v2zM1747 1195v-4h1v4zM1749 1195v-3h1v3zM1750 1195v-4h1v4zM1753 1195v-2h1v2zM1754 1195v-2h1v2zM1762 1195v-2h1v2zM1769 1195v-3h1v3zM1770 1195v-3h1v3zM1774 1195v-2h1v2zM1781 1195v-2h1v2zM1783 1195v-2h1v2zM1785 1195v-5h1v5zM1789 1195v-4h1v4zM1795 1195v-2h1v2zM1797 1195v-6h1v6zM1802 1195v-3h1v3zM1804 1195v-2h1v2zM1806 1195v-2h1v2zM1807 1195v-5h1v5zM1808 1195v-5h1v5zM1812 1195v-2h1v2zM1814 1195v-2h1v2zM1818 1195v-9h1v9zM1821 1195v-2h1v2zM1823 1195v-2h1v2zM1826 1195v-3h1v3zM1827 1195v-2h1v2zM1831 1195v-2h1v2zM1834 1195v-2h1v2zM1840 1195v-3h1v3zM1842 1195v-2h1v2zM1846 1195v-2h1v2zM1849 1195v-2h1v2zM1852 1195v-2h1v2zM1857 1195v-2h1v2zM1859 1195v-2h1v2zM1863 1195v-3h1v3zM1864 1195v-3h1v3zM1867 1195v-2h1v2zM1868 1195v-3h1v3zM1876 1195v-5h1v5zM1879 1195v-8h1v8zM1882 1195v-2h1v2zM1889 1195v-2h1v2zM1895 1195v-2h1v2zM1897 1195v-5h1v5zM1898 1195v-48h1v48zM1899 1195v-6h1v6zM1905 1195v-2h1v2zM1906 1195v-2h1v2zM1909 1195v-2h1v2zM1912 1195v-3h1v3z" fill="#F7A9A7"/>
<path d="M19.0 562.3 L20.3 567.1 L22.8 581.3 L25.3 590.4 L28.5 584.2 L30.4 575.6 L32.7 555.7 L34.2 552.8 L37.0 556.6 L38.9 550.9 L41.4 531.6 L44.1 550.0 L46.2 547.1 L48.4 531.9 L49.8 526.2 L51.7 507.3 L53.8 501.9 L56.0 511.1 L57.9 510.7 L59.8 522.5 L61.9 531.6 L64.6 514.9 L66.1 510.1 L68.8 512.0 L70.7 511.1 L72.2 511.1 L74.1 519.6 L76.0 497.8 L76.9 493.0 L78.8 497.8 L80.2 490.2 L81.1 456.0 L82.1 427.5 L83.6 399.0 L84.5 368.4 L86.4 339.9 L87.4 333.3 L88.9 345.6 L90.4 311.4 L93.1 340.9 L95.5 301.9 L97.8 303.8 L100.3 323.8 L103.1 296.2 L104.1 244.0 L106.0 255.4 L108.6 207.0 L110.9 168.0 L112.1 222.2 L114.0 207.0 L114.9 339.9 L115.5 400.0 L115.9 409.4 L118.1 410.4 L120.0 433.6 L123.1 402.4 L124.4 410.4 L125.7 439.3 L127.6 424.6 L129.2 423.7 L130.1 399.0 L131.1 365.6 L133.9 383.6 L134.9 377.9 L135.8 391.2 L137.1 384.6 L138.7 396.9 L140.6 393.1 L142.5 391.2 L144.3 377.9 L146.6 349.4 L149.1 296.2 L150.4 279.2 L151.9 294.3 L153.5 336.1 L155.7 323.8 L158.0 336.1 L159.5 329.5 L161.1 330.4 L162.6 358.0 L164.9 352.3 L167.1 332.3 L170.4 325.7 L172.3 337.1 L174.7 324.7 L177.2 312.4 L179.5 315.2 L181.6 285.2 L183.3 315.2 L185.8 335.2 L187.5 320.9 L189.9 336.1 L193.7 364.6 L197.5 368.4 L200.4 343.7 L202.8 345.6 L204.7 354.2 L207.4 328.5 L210.4 347.5 L212.7 395.0 L214.6 383.6 L218.4 374.1 L220.7 352.3 L223.7 374.1 L226.0 359.9 L229.4 368.4 L231.7 349.4 L234.6 314.3 L236.5 332.3 L238.7 337.1 L241.2 312.4 L244.1 324.7 L246.9 312.4 L248.8 319.0 L250.7 333.3 L255.5 331.4 L257.7 317.1 L259.3 336.1 L261.7 321.9 L265.0 341.8 L267.8 344.7 L271.2 335.2 L272.9 352.3 L276.4 343.7 L278.3 328.5 L280.7 319.0 L284.0 324.7 L287.2 317.5 L289.1 328.5 L290.6 322.8 L292.5 341.8 L295.3 349.4 L298.2 343.7 L301.0 334.2 L304.8 339.9 L308.1 348.5 L312.4 344.7 L314.3 317.1 L316.2 315.2 L318.1 291.5 L320.0 290.6 L322.3 283.9 L325.2 293.4 L328.2 278.8 L331.4 288.7 L333.9 283.0 L336.6 303.8 L339.0 313.3 L341.5 317.5 L343.4 299.1 L346.6 301.0 L349.1 289.6 L351.4 299.1 L355.2 292.5 L359.9 296.2 L361.8 311.4 L363.7 312.4 L365.6 319.0 L368.5 323.2 L370.4 323.2 L371.9 308.6 L374.5 321.9 L377.0 351.3 L379.9 350.4 L381.4 352.3 L383.7 330.4 L386.9 329.5 L389.4 343.7 L391.3 351.3 L393.2 347.5 L395.1 355.1 L397.3 346.6 L400.0 349.4 L401.3 346.9 L403.0 364.0 L405.6 353.5 L408.5 346.9 L411.3 343.1 L414.2 345.9 L417.6 346.9 L419.3 361.1 L421.4 339.3 L423.3 329.4 L425.6 348.8 L427.5 345.0 L429.8 347.8 L431.7 352.6 L433.2 367.8 L434.5 365.9 L436.0 379.2 L437.0 373.5 L438.5 388.7 L440.8 375.4 L442.7 381.1 L444.2 376.3 L446.5 391.5 L448.0 387.7 L449.9 400.0 L451.2 411.4 L453.1 442.2 L455.0 437.1 L457.5 431.4 L458.8 441.8 L460.2 458.0 L461.7 451.3 L462.6 464.6 L464.1 450.4 L465.5 476.6 L466.8 514.6 L467.7 550.7 L469.3 554.5 L470.8 541.2 L472.1 526.0 L473.6 527.9 L475.0 507.0 L476.5 491.8 L477.8 483.2 L479.7 499.4 L481.6 490.8 L483.5 502.2 L485.0 505.1 L487.3 530.7 L489.2 513.6 L491.1 510.8 L492.6 529.8 L494.0 545.9 L495.9 527.9 L498.1 514.6 L499.7 494.6 L501.2 488.9 L502.5 489.9 L504.4 511.7 L506.9 507.0 L508.8 530.7 L510.7 507.9 L512.4 526.0 L514.5 526.0 L516.8 537.4 L519.0 538.3 L520.2 559.2 L522.1 545.9 L523.8 523.1 L525.3 508.9 L526.6 512.7 L528.1 505.1 L530.0 516.5 L531.9 516.5 L533.8 529.8 L535.4 529.8 L536.7 542.1 L538.0 538.3 L539.9 548.8 L541.4 558.3 L543.0 564.0 L544.9 555.4 L546.6 541.2 L548.5 538.9 L550.0 543.1 L551.5 571.6 L552.5 588.3 L553.8 579.2 L555.3 550.7 L556.6 524.1 L558.2 531.7 L560.4 516.1 L562.0 527.9 L563.3 526.0 L564.6 541.2 L567.1 544.0 L568.6 545.0 L570.1 557.3 L572.2 553.5 L573.7 545.0 L575.3 529.8 L577.0 526.0 L578.9 529.8 L580.9 539.3 L583.6 528.3 L586.1 537.7 L588.4 536.4 L589.9 528.8 L591.8 520.3 L593.3 530.7 L594.6 515.5 L598.0 514.6 L600.3 520.3 L602.6 528.8 L604.1 528.8 L606.0 537.4 L608.5 544.0 L610.2 556.4 L612.1 571.6 L613.6 590.6 L615.5 600.0 L617.4 594.3 L618.9 613.3 L621.2 623.8 L622.7 592.5 L624.4 603.8 L625.6 617.1 L626.9 596.2 L628.8 600.0 L630.3 615.2 L631.7 613.3 L632.8 625.7 L633.6 658.9 L634.1 685.5 L635.7 707.0 L636.5 731.7 L637.4 745.0 L638.6 748.8 L639.5 715.5 L640.8 741.2 L642.2 759.2 L643.3 747.8 L644.8 783.0 L646.2 764.0 L647.5 737.4 L649.0 729.8 L650.3 726.0 L651.9 734.5 L653.8 729.8 L655.7 727.9 L657.0 735.5 L658.5 756.4 L659.8 732.6 L661.2 753.5 L662.7 739.3 L664.0 727.9 L665.5 749.7 L666.9 743.1 L667.8 767.8 L669.3 779.2 L671.8 789.6 L673.1 766.8 L674.6 762.1 L676.0 752.6 L677.3 771.6 L678.4 789.6 L680.2 794.0 L681.7 755.4 L683.6 765.9 L685.5 750.7 L687.4 762.1 L689.3 758.3 L691.2 752.6 L692.7 759.2 L694.0 771.6 L695.5 786.8 L696.9 807.6 L697.8 807.6 L699.1 817.1 L700.7 830.4 L702.0 824.7 L703.5 841.8 L705.0 829.5 L706.4 837.1 L707.7 858.9 L708.8 839.9 L710.2 876.0 L712.1 858.9 L714.0 835.2 L715.9 849.4 L716.8 863.7 L718.7 866.5 L721.0 891.2 L722.5 868.4 L723.8 849.4 L725.4 864.6 L726.9 887.4 L728.2 904.2 L729.5 916.5 L731.1 900.4 L732.4 896.6 L734.3 904.2 L735.2 925.1 L736.4 949.8 L737.1 967.8 L738.7 939.3 L740.0 961.2 L741.5 984.0 L742.8 999.2 L744.0 1012.5 L745.3 1032.4 L746.8 1001.1 L748.5 1003.0 L749.7 1014.3 L751.4 1001.1 L752.5 1003.0 L753.8 1021.9 L755.4 1056.1 L756.7 1082.7 L757.6 1102.7 L758.6 1069.4 L759.5 1040.9 L761.1 1016.2 L762.8 997.3 L764.9 1004.9 L766.2 991.6 L767.1 969.7 L769.0 980.2 L770.9 989.7 L772.5 1006.8 L774.0 1031.8 L775.3 1006.8 L776.6 989.7 L778.5 987.8 L780.8 983.0 L782.7 987.8 L784.6 999.2 L786.3 1005.8 L788.0 995.4 L789.9 982.1 L791.8 986.8 L793.4 985.9 L795.6 972.6 L797.2 951.7 L798.5 930.8 L800.9 923.2 L802.3 934.6 L804.7 940.3 L806.1 930.8 L807.6 915.6 L809.9 920.3 L811.8 911.8 L814.6 909.9 L816.5 920.3 L818.4 933.6 L820.3 923.2 L822.2 940.3 L823.7 947.9 L825.1 951.7 L826.6 957.7 L828.9 953.6 L831.1 952.6 L832.7 934.6 L834.0 930.4 L835.5 940.3 L837.0 951.7 L839.3 955.5 L840.8 965.9 L842.2 957.4 L843.3 972.6 L845.0 961.2 L846.9 940.3 L848.8 926.0 L851.1 917.1 L853.6 923.2 L855.5 922.2 L857.9 934.6 L860.2 915.6 L862.5 910.3 L864.0 921.3 L865.3 930.8 L867.8 935.5 L870.7 939.3 L873.1 936.5 L874.8 927.0 L876.4 919.4 L879.2 919.4 L881.7 924.1 L884.0 935.5 L886.8 930.8 L889.1 918.4 L892.5 916.5 L895.3 916.5 L897.2 923.2 L898.8 934.6 L901.0 928.9 L902.9 929.8 L904.5 926.0 L906.7 927.0 L908.6 918.4 L910.5 908.0 L912.8 904.2 L914.3 892.8 L915.7 877.6 L918.1 873.8 L920.6 889.0 L922.5 875.7 L923.8 874.7 L926.3 881.4 L928.6 894.7 L929.9 902.3 L932.4 905.5 L936.2 904.2 L939.0 901.3 L940.9 893.7 L943.8 883.3 L948.0 872.3 L950.4 882.3 L951.8 881.4 L953.3 888.0 L955.2 873.8 L957.1 871.5 L959.9 876.6 L961.4 886.1 L963.3 874.7 L965.6 872.8 L968.5 873.4 L970.4 871.9 L973.8 870.9 L977.0 877.6 L979.5 885.2 L982.1 882.9 L985.6 889.9 L987.5 899.4 L990.3 900.4 L992.2 898.5 L994.1 906.1 L995.4 913.7 L997.9 903.2 L999.0 901.6 L1000.9 904.1 L1003.2 900.7 L1004.7 890.2 L1006.6 887.7 L1008.5 887.0 L1010.8 883.6 L1012.7 882.6 L1014.2 876.9 L1015.7 877.9 L1017.0 871.2 L1019.3 867.4 L1021.8 868.8 L1024.1 880.7 L1025.6 876.0 L1029.0 871.2 L1030.9 858.9 L1032.8 852.2 L1035.1 851.7 L1037.5 850.9 L1039.3 862.7 L1041.2 873.1 L1043.1 876.5 L1045.5 873.1 L1048.4 872.2 L1052.2 869.9 L1054.1 860.8 L1056.4 856.0 L1058.3 860.4 L1059.8 871.2 L1062.6 874.5 L1064.9 870.7 L1067.0 875.0 L1069.3 871.8 L1071.7 874.1 L1074.4 869.9 L1076.9 876.0 L1078.8 875.0 L1080.7 869.3 L1082.6 857.0 L1084.8 851.7 L1086.7 859.8 L1089.2 860.4 L1091.1 870.3 L1093.6 871.2 L1094.9 877.9 L1096.2 891.2 L1098.1 892.7 L1100.0 889.6 L1102.5 904.5 L1105.0 896.9 L1107.3 898.8 L1109.5 904.5 L1112.0 901.6 L1114.3 895.0 L1115.8 890.2 L1117.7 889.3 L1120.6 895.0 L1121.5 914.9 L1122.8 907.3 L1124.0 912.1 L1125.5 923.1 L1126.8 901.6 L1129.1 903.5 L1131.4 900.3 L1133.5 903.5 L1136.7 913.6 L1139.5 908.3 L1141.8 904.1 L1144.3 903.5 L1146.8 893.1 L1148.5 887.0 L1151.9 887.0 L1153.2 900.7 L1155.7 897.2 L1157.6 903.5 L1160.4 908.3 L1162.3 910.2 L1165.2 915.9 L1167.7 925.7 L1170.3 914.9 L1171.8 921.6 L1174.7 929.2 L1177.2 919.3 L1180.4 919.7 L1184.2 916.2 L1185.1 925.7 L1187.0 929.2 L1189.9 924.4 L1192.7 924.4 L1195.0 919.7 L1196.5 928.2 L1199.4 921.6 L1201.7 912.1 L1203.7 915.9 L1207.0 914.9 L1210.2 913.6 L1212.7 915.9 L1215.5 920.6 L1217.4 927.3 L1219.3 933.9 L1220.8 940.6 L1223.1 935.8 L1225.0 935.8 L1226.3 940.9 L1228.8 936.4 L1230.7 933.9 L1233.0 936.8 L1234.5 948.5 L1237.4 948.5 L1238.9 936.8 L1240.2 924.4 L1242.1 920.0 L1245.0 919.3 L1247.4 920.6 L1249.7 926.3 L1252.6 936.8 L1254.5 945.3 L1255.8 940.6 L1257.7 935.2 L1259.6 941.5 L1261.1 940.6 L1264.0 946.2 L1265.8 936.8 L1267.2 928.8 L1269.1 934.9 L1271.5 938.7 L1274.0 947.2 L1275.3 951.0 L1277.2 954.8 L1279.5 962.4 L1282.0 954.8 L1283.5 965.2 L1286.2 965.2 L1288.6 951.9 L1290.2 951.0 L1291.5 957.6 L1293.4 956.1 L1296.2 965.2 L1298.1 969.0 L1300.0 971.9 L1302.3 983.9 L1303.8 975.7 L1305.7 965.2 L1308.0 959.2 L1310.9 971.9 L1312.4 965.2 L1313.7 950.0 L1315.8 938.7 L1317.7 917.8 L1319.0 913.0 L1320.6 921.6 L1321.9 913.6 L1323.8 923.5 L1325.7 915.9 L1328.0 928.2 L1330.0 921.6 L1331.4 915.5 L1332.9 920.6 L1334.8 914.9 L1336.7 908.3 L1338.0 902.6 L1339.9 909.2 L1341.8 914.0 L1343.7 909.8 L1346.2 910.5 L1348.5 913.6 L1350.4 916.8 L1352.6 915.9 L1355.1 919.7 L1357.0 923.5 L1359.5 927.6 L1362.1 934.5 L1364.0 929.2 L1365.9 921.2 L1368.4 930.1 L1370.9 936.8 L1373.2 950.0 L1374.7 962.4 L1377.0 959.5 L1378.9 959.2 L1381.3 961.4 L1383.7 962.4 L1385.3 970.9 L1386.6 975.7 L1388.5 970.0 L1389.8 970.9 L1391.0 982.3 L1392.3 990.9 L1393.8 989.9 L1395.1 975.7 L1397.0 962.4 L1398.0 961.4 L1399.9 972.8 L1401.4 969.0 L1402.7 972.8 L1404.1 955.7 L1405.6 951.0 L1408.4 950.0 L1410.0 957.6 L1411.3 962.4 L1414.1 969.0 L1416.0 970.0 L1419.4 969.0 L1420.8 957.6 L1422.3 951.6 L1423.6 956.7 L1425.5 968.1 L1426.9 978.5 L1428.0 991.8 L1428.9 1001.3 L1430.3 1008.0 L1431.8 1001.3 L1433.5 988.0 L1435.0 987.1 L1436.5 978.5 L1437.9 969.0 L1439.8 975.7 L1441.7 971.9 L1443.6 972.8 L1446.4 969.0 L1448.9 963.3 L1450.2 961.8 L1452.7 962.4 L1454.4 968.1 L1455.9 972.5 L1458.4 972.5 L1460.3 963.3 L1461.6 951.9 L1462.6 942.5 L1465.4 945.3 L1466.4 921.6 L1467.7 893.1 L1469.2 881.7 L1471.1 880.7 L1472.4 893.1 L1474.5 888.3 L1475.9 900.7 L1477.4 913.0 L1479.1 908.3 L1480.2 893.1 L1481.6 889.3 L1483.1 903.5 L1484.4 912.1 L1486.3 915.5 L1488.8 914.9 L1490.5 920.6 L1493.0 917.8 L1494.3 909.2 L1495.4 908.3 L1496.4 923.5 L1498.1 927.3 L1500.2 923.5 L1501.5 914.9 L1502.5 914.0 L1504.0 921.6 L1506.2 923.8 L1508.5 921.6 L1510.6 918.7 L1511.9 912.1 L1512.9 893.1 L1514.2 895.9 L1516.7 892.1 L1518.0 904.5 L1519.5 914.0 L1521.4 917.8 L1523.7 915.9 L1526.2 919.7 L1528.1 922.5 L1530.0 920.6 L1531.9 916.8 L1533.8 916.8 L1535.1 930.1 L1536.6 929.2 L1538.5 913.0 L1540.1 929.2 L1542.0 931.1 L1543.9 930.7 L1545.2 929.2 L1547.1 934.9 L1548.4 931.1 L1549.9 918.7 L1550.9 914.9 L1552.2 925.4 L1553.7 932.0 L1555.6 924.4 L1557.0 922.5 L1558.5 936.8 L1560.4 949.1 L1561.9 936.8 L1563.2 925.4 L1565.5 930.1 L1567.0 929.2 L1568.5 935.8 L1569.9 940.9 L1571.8 936.8 L1572.7 932.0 L1574.6 935.8 L1577.1 930.1 L1578.4 933.9 L1580.3 929.2 L1582.2 925.4 L1584.1 919.7 L1586.0 916.8 L1587.5 914.9 L1588.9 924.4 L1590.8 926.9 L1594.6 926.9 L1596.1 918.7 L1597.4 916.8 L1599.3 921.6 L1601.2 916.8 L1602.7 915.9 L1604.1 917.8 L1606.0 915.9 L1606.9 911.1 L1609.2 906.0 L1611.7 909.8 L1614.1 909.8 L1616.4 905.4 L1618.7 907.3 L1621.2 914.0 L1623.1 914.0 L1625.0 918.7 L1626.9 921.9 L1628.8 919.7 L1629.7 914.9 L1632.0 913.0 L1633.9 914.0 L1635.4 907.3 L1636.9 914.0 L1638.3 907.3 L1640.2 909.2 L1643.0 908.6 L1644.9 910.2 L1646.4 917.8 L1647.7 919.7 L1650.6 918.7 L1653.4 917.8 L1655.3 910.2 L1656.3 898.8 L1658.2 897.8 L1660.1 890.2 L1662.0 888.3 L1663.9 887.4 L1666.2 885.1 L1667.7 893.1 L1669.2 900.7 L1671.1 895.9 L1672.4 891.2 L1674.3 893.1 L1676.2 891.2 L1678.1 888.9 L1681.0 886.4 L1682.9 879.8 L1685.2 883.6 L1686.7 889.6 L1689.5 889.3 L1691.4 887.7 L1693.3 890.2 L1695.2 888.3 L1696.2 896.9 L1697.7 891.2 L1700.0 898.8 L1701.9 901.6 L1703.4 903.5 L1705.3 896.9 L1706.6 890.2 L1708.0 898.8 L1709.9 906.4 L1711.4 898.8 L1712.9 891.2 L1714.8 887.4 L1717.1 885.5 L1719.0 887.7 L1720.5 891.2 L1722.8 884.5 L1724.7 882.6 L1726.6 887.4 L1728.5 886.4 L1730.8 890.2 L1732.6 896.9 L1734.2 899.7 L1736.1 895.0 L1738.0 889.3 L1739.9 882.6 L1741.8 876.9 L1743.3 874.5 L1745.2 875.0 L1746.5 882.6 L1748.4 883.6 L1750.3 882.6 L1753.2 884.5 L1756.0 882.6 L1757.9 881.7 L1758.9 868.4 L1760.8 860.3 L1762.5 851.2 L1763.6 845.5 L1764.8 843.8 L1766.2 843.0 L1767.0 850.0 L1767.9 862.6 L1768.7 867.1 L1770.1 866.6 L1771.0 858.0 L1771.9 847.2 L1773.1 847.5 L1773.9 858.0 L1775.0 852.3 L1776.2 850.0 L1777.3 851.2 L1778.4 850.0 L1779.6 858.0 L1780.7 854.6 L1781.9 858.9 L1782.6 848.3 L1784.1 848.3 L1785.3 854.6 L1786.4 852.3 L1788.1 853.4 L1789.5 859.1 L1791.0 866.0 L1792.7 872.3 L1794.0 870.0 L1795.5 863.7 L1796.7 858.0 L1798.4 856.9 L1799.7 854.6 L1801.2 850.6 L1802.9 849.5 L1804.3 849.1 L1805.2 853.4 L1806.9 856.9 L1807.8 860.9 L1809.2 858.0 L1810.9 856.9 L1812.6 856.9 L1814.1 858.0 L1815.2 862.6 L1816.0 874.0 L1816.8 883.1 L1817.7 889.9 L1818.9 894.5 L1820.6 895.6 L1821.7 888.8 L1822.9 886.5 L1823.7 899.6 L1824.8 894.5 L1825.7 891.1 L1826.9 898.5 L1828.0 893.9 L1829.4 900.2 L1830.3 891.1 L1831.4 890.5 L1832.6 894.5 L1833.7 899.6 L1834.8 903.0 L1836.0 891.1 L1837.1 889.9 L1838.5 892.8 L1839.6 896.8 L1840.8 892.2 L1842.8 893.3 L1844.5 895.0 L1846.0 899.0 L1847.4 905.3 L1848.5 907.0 L1849.7 896.8 L1850.6 886.5 L1851.4 885.9 L1852.5 888.8 L1854.2 891.1 L1855.4 889.9 L1856.3 900.2 L1857.2 910.0 L1858.1 914.4 L1859.9 910.0 L1861.1 901.3 L1862.2 898.5 L1863.9 900.7 L1865.6 898.5 L1867.3 897.9 L1868.5 893.9 L1869.6 892.2 L1871.3 893.3 L1872.5 888.8 L1873.8 887.1 L1875.3 887.6 L1877.0 887.1 L1878.1 888.8 L1879.5 883.1 L1881.0 886.5 L1882.1 887.6 L1883.8 886.5 L1885.6 884.8 L1886.4 879.7 L1887.8 876.2 L1889.0 880.2 L1890.7 877.4 L1891.6 868.3 L1892.4 856.9 L1893.5 850.0 L1895.2 848.9 L1897.3 848.3 L1898.7 856.9 L1900.0 862.0 L1901.5 858.6 L1902.6 851.2 L1903.4 837.5 L1904.4 834.6 L1905.5 844.3 L1906.6 855.7 L1907.8 855.5 L1909.1 850.0 L1910.6 842.1 L1912.3 836.4 L1913.5 831.8 L1913.8 817.0 L1913.9 805.6 L1913.9 800.1 L1913.9 626 L19.0 626 Z" fill="url(#gg)" clip-path="url(#cTop)"/>
<path d="M19.0 562.3 L20.3 567.1 L22.8 581.3 L25.3 590.4 L28.5 584.2 L30.4 575.6 L32.7 555.7 L34.2 552.8 L37.0 556.6 L38.9 550.9 L41.4 531.6 L44.1 550.0 L46.2 547.1 L48.4 531.9 L49.8 526.2 L51.7 507.3 L53.8 501.9 L56.0 511.1 L57.9 510.7 L59.8 522.5 L61.9 531.6 L64.6 514.9 L66.1 510.1 L68.8 512.0 L70.7 511.1 L72.2 511.1 L74.1 519.6 L76.0 497.8 L76.9 493.0 L78.8 497.8 L80.2 490.2 L81.1 456.0 L82.1 427.5 L83.6 399.0 L84.5 368.4 L86.4 339.9 L87.4 333.3 L88.9 345.6 L90.4 311.4 L93.1 340.9 L95.5 301.9 L97.8 303.8 L100.3 323.8 L103.1 296.2 L104.1 244.0 L106.0 255.4 L108.6 207.0 L110.9 168.0 L112.1 222.2 L114.0 207.0 L114.9 339.9 L115.5 400.0 L115.9 409.4 L118.1 410.4 L120.0 433.6 L123.1 402.4 L124.4 410.4 L125.7 439.3 L127.6 424.6 L129.2 423.7 L130.1 399.0 L131.1 365.6 L133.9 383.6 L134.9 377.9 L135.8 391.2 L137.1 384.6 L138.7 396.9 L140.6 393.1 L142.5 391.2 L144.3 377.9 L146.6 349.4 L149.1 296.2 L150.4 279.2 L151.9 294.3 L153.5 336.1 L155.7 323.8 L158.0 336.1 L159.5 329.5 L161.1 330.4 L162.6 358.0 L164.9 352.3 L167.1 332.3 L170.4 325.7 L172.3 337.1 L174.7 324.7 L177.2 312.4 L179.5 315.2 L181.6 285.2 L183.3 315.2 L185.8 335.2 L187.5 320.9 L189.9 336.1 L193.7 364.6 L197.5 368.4 L200.4 343.7 L202.8 345.6 L204.7 354.2 L207.4 328.5 L210.4 347.5 L212.7 395.0 L214.6 383.6 L218.4 374.1 L220.7 352.3 L223.7 374.1 L226.0 359.9 L229.4 368.4 L231.7 349.4 L234.6 314.3 L236.5 332.3 L238.7 337.1 L241.2 312.4 L244.1 324.7 L246.9 312.4 L248.8 319.0 L250.7 333.3 L255.5 331.4 L257.7 317.1 L259.3 336.1 L261.7 321.9 L265.0 341.8 L267.8 344.7 L271.2 335.2 L272.9 352.3 L276.4 343.7 L278.3 328.5 L280.7 319.0 L284.0 324.7 L287.2 317.5 L289.1 328.5 L290.6 322.8 L292.5 341.8 L295.3 349.4 L298.2 343.7 L301.0 334.2 L304.8 339.9 L308.1 348.5 L312.4 344.7 L314.3 317.1 L316.2 315.2 L318.1 291.5 L320.0 290.6 L322.3 283.9 L325.2 293.4 L328.2 278.8 L331.4 288.7 L333.9 283.0 L336.6 303.8 L339.0 313.3 L341.5 317.5 L343.4 299.1 L346.6 301.0 L349.1 289.6 L351.4 299.1 L355.2 292.5 L359.9 296.2 L361.8 311.4 L363.7 312.4 L365.6 319.0 L368.5 323.2 L370.4 323.2 L371.9 308.6 L374.5 321.9 L377.0 351.3 L379.9 350.4 L381.4 352.3 L383.7 330.4 L386.9 329.5 L389.4 343.7 L391.3 351.3 L393.2 347.5 L395.1 355.1 L397.3 346.6 L400.0 349.4 L401.3 346.9 L403.0 364.0 L405.6 353.5 L408.5 346.9 L411.3 343.1 L414.2 345.9 L417.6 346.9 L419.3 361.1 L421.4 339.3 L423.3 329.4 L425.6 348.8 L427.5 345.0 L429.8 347.8 L431.7 352.6 L433.2 367.8 L434.5 365.9 L436.0 379.2 L437.0 373.5 L438.5 388.7 L440.8 375.4 L442.7 381.1 L444.2 376.3 L446.5 391.5 L448.0 387.7 L449.9 400.0 L451.2 411.4 L453.1 442.2 L455.0 437.1 L457.5 431.4 L458.8 441.8 L460.2 458.0 L461.7 451.3 L462.6 464.6 L464.1 450.4 L465.5 476.6 L466.8 514.6 L467.7 550.7 L469.3 554.5 L470.8 541.2 L472.1 526.0 L473.6 527.9 L475.0 507.0 L476.5 491.8 L477.8 483.2 L479.7 499.4 L481.6 490.8 L483.5 502.2 L485.0 505.1 L487.3 530.7 L489.2 513.6 L491.1 510.8 L492.6 529.8 L494.0 545.9 L495.9 527.9 L498.1 514.6 L499.7 494.6 L501.2 488.9 L502.5 489.9 L504.4 511.7 L506.9 507.0 L508.8 530.7 L510.7 507.9 L512.4 526.0 L514.5 526.0 L516.8 537.4 L519.0 538.3 L520.2 559.2 L522.1 545.9 L523.8 523.1 L525.3 508.9 L526.6 512.7 L528.1 505.1 L530.0 516.5 L531.9 516.5 L533.8 529.8 L535.4 529.8 L536.7 542.1 L538.0 538.3 L539.9 548.8 L541.4 558.3 L543.0 564.0 L544.9 555.4 L546.6 541.2 L548.5 538.9 L550.0 543.1 L551.5 571.6 L552.5 588.3 L553.8 579.2 L555.3 550.7 L556.6 524.1 L558.2 531.7 L560.4 516.1 L562.0 527.9 L563.3 526.0 L564.6 541.2 L567.1 544.0 L568.6 545.0 L570.1 557.3 L572.2 553.5 L573.7 545.0 L575.3 529.8 L577.0 526.0 L578.9 529.8 L580.9 539.3 L583.6 528.3 L586.1 537.7 L588.4 536.4 L589.9 528.8 L591.8 520.3 L593.3 530.7 L594.6 515.5 L598.0 514.6 L600.3 520.3 L602.6 528.8 L604.1 528.8 L606.0 537.4 L608.5 544.0 L610.2 556.4 L612.1 571.6 L613.6 590.6 L615.5 600.0 L617.4 594.3 L618.9 613.3 L621.2 623.8 L622.7 592.5 L624.4 603.8 L625.6 617.1 L626.9 596.2 L628.8 600.0 L630.3 615.2 L631.7 613.3 L632.8 625.7 L633.6 658.9 L634.1 685.5 L635.7 707.0 L636.5 731.7 L637.4 745.0 L638.6 748.8 L639.5 715.5 L640.8 741.2 L642.2 759.2 L643.3 747.8 L644.8 783.0 L646.2 764.0 L647.5 737.4 L649.0 729.8 L650.3 726.0 L651.9 734.5 L653.8 729.8 L655.7 727.9 L657.0 735.5 L658.5 756.4 L659.8 732.6 L661.2 753.5 L662.7 739.3 L664.0 727.9 L665.5 749.7 L666.9 743.1 L667.8 767.8 L669.3 779.2 L671.8 789.6 L673.1 766.8 L674.6 762.1 L676.0 752.6 L677.3 771.6 L678.4 789.6 L680.2 794.0 L681.7 755.4 L683.6 765.9 L685.5 750.7 L687.4 762.1 L689.3 758.3 L691.2 752.6 L692.7 759.2 L694.0 771.6 L695.5 786.8 L696.9 807.6 L697.8 807.6 L699.1 817.1 L700.7 830.4 L702.0 824.7 L703.5 841.8 L705.0 829.5 L706.4 837.1 L707.7 858.9 L708.8 839.9 L710.2 876.0 L712.1 858.9 L714.0 835.2 L715.9 849.4 L716.8 863.7 L718.7 866.5 L721.0 891.2 L722.5 868.4 L723.8 849.4 L725.4 864.6 L726.9 887.4 L728.2 904.2 L729.5 916.5 L731.1 900.4 L732.4 896.6 L734.3 904.2 L735.2 925.1 L736.4 949.8 L737.1 967.8 L738.7 939.3 L740.0 961.2 L741.5 984.0 L742.8 999.2 L744.0 1012.5 L745.3 1032.4 L746.8 1001.1 L748.5 1003.0 L749.7 1014.3 L751.4 1001.1 L752.5 1003.0 L753.8 1021.9 L755.4 1056.1 L756.7 1082.7 L757.6 1102.7 L758.6 1069.4 L759.5 1040.9 L761.1 1016.2 L762.8 997.3 L764.9 1004.9 L766.2 991.6 L767.1 969.7 L769.0 980.2 L770.9 989.7 L772.5 1006.8 L774.0 1031.8 L775.3 1006.8 L776.6 989.7 L778.5 987.8 L780.8 983.0 L782.7 987.8 L784.6 999.2 L786.3 1005.8 L788.0 995.4 L789.9 982.1 L791.8 986.8 L793.4 985.9 L795.6 972.6 L797.2 951.7 L798.5 930.8 L800.9 923.2 L802.3 934.6 L804.7 940.3 L806.1 930.8 L807.6 915.6 L809.9 920.3 L811.8 911.8 L814.6 909.9 L816.5 920.3 L818.4 933.6 L820.3 923.2 L822.2 940.3 L823.7 947.9 L825.1 951.7 L826.6 957.7 L828.9 953.6 L831.1 952.6 L832.7 934.6 L834.0 930.4 L835.5 940.3 L837.0 951.7 L839.3 955.5 L840.8 965.9 L842.2 957.4 L843.3 972.6 L845.0 961.2 L846.9 940.3 L848.8 926.0 L851.1 917.1 L853.6 923.2 L855.5 922.2 L857.9 934.6 L860.2 915.6 L862.5 910.3 L864.0 921.3 L865.3 930.8 L867.8 935.5 L870.7 939.3 L873.1 936.5 L874.8 927.0 L876.4 919.4 L879.2 919.4 L881.7 924.1 L884.0 935.5 L886.8 930.8 L889.1 918.4 L892.5 916.5 L895.3 916.5 L897.2 923.2 L898.8 934.6 L901.0 928.9 L902.9 929.8 L904.5 926.0 L906.7 927.0 L908.6 918.4 L910.5 908.0 L912.8 904.2 L914.3 892.8 L915.7 877.6 L918.1 873.8 L920.6 889.0 L922.5 875.7 L923.8 874.7 L926.3 881.4 L928.6 894.7 L929.9 902.3 L932.4 905.5 L936.2 904.2 L939.0 901.3 L940.9 893.7 L943.8 883.3 L948.0 872.3 L950.4 882.3 L951.8 881.4 L953.3 888.0 L955.2 873.8 L957.1 871.5 L959.9 876.6 L961.4 886.1 L963.3 874.7 L965.6 872.8 L968.5 873.4 L970.4 871.9 L973.8 870.9 L977.0 877.6 L979.5 885.2 L982.1 882.9 L985.6 889.9 L987.5 899.4 L990.3 900.4 L992.2 898.5 L994.1 906.1 L995.4 913.7 L997.9 903.2 L999.0 901.6 L1000.9 904.1 L1003.2 900.7 L1004.7 890.2 L1006.6 887.7 L1008.5 887.0 L1010.8 883.6 L1012.7 882.6 L1014.2 876.9 L1015.7 877.9 L1017.0 871.2 L1019.3 867.4 L1021.8 868.8 L1024.1 880.7 L1025.6 876.0 L1029.0 871.2 L1030.9 858.9 L1032.8 852.2 L1035.1 851.7 L1037.5 850.9 L1039.3 862.7 L1041.2 873.1 L1043.1 876.5 L1045.5 873.1 L1048.4 872.2 L1052.2 869.9 L1054.1 860.8 L1056.4 856.0 L1058.3 860.4 L1059.8 871.2 L1062.6 874.5 L1064.9 870.7 L1067.0 875.0 L1069.3 871.8 L1071.7 874.1 L1074.4 869.9 L1076.9 876.0 L1078.8 875.0 L1080.7 869.3 L1082.6 857.0 L1084.8 851.7 L1086.7 859.8 L1089.2 860.4 L1091.1 870.3 L1093.6 871.2 L1094.9 877.9 L1096.2 891.2 L1098.1 892.7 L1100.0 889.6 L1102.5 904.5 L1105.0 896.9 L1107.3 898.8 L1109.5 904.5 L1112.0 901.6 L1114.3 895.0 L1115.8 890.2 L1117.7 889.3 L1120.6 895.0 L1121.5 914.9 L1122.8 907.3 L1124.0 912.1 L1125.5 923.1 L1126.8 901.6 L1129.1 903.5 L1131.4 900.3 L1133.5 903.5 L1136.7 913.6 L1139.5 908.3 L1141.8 904.1 L1144.3 903.5 L1146.8 893.1 L1148.5 887.0 L1151.9 887.0 L1153.2 900.7 L1155.7 897.2 L1157.6 903.5 L1160.4 908.3 L1162.3 910.2 L1165.2 915.9 L1167.7 925.7 L1170.3 914.9 L1171.8 921.6 L1174.7 929.2 L1177.2 919.3 L1180.4 919.7 L1184.2 916.2 L1185.1 925.7 L1187.0 929.2 L1189.9 924.4 L1192.7 924.4 L1195.0 919.7 L1196.5 928.2 L1199.4 921.6 L1201.7 912.1 L1203.7 915.9 L1207.0 914.9 L1210.2 913.6 L1212.7 915.9 L1215.5 920.6 L1217.4 927.3 L1219.3 933.9 L1220.8 940.6 L1223.1 935.8 L1225.0 935.8 L1226.3 940.9 L1228.8 936.4 L1230.7 933.9 L1233.0 936.8 L1234.5 948.5 L1237.4 948.5 L1238.9 936.8 L1240.2 924.4 L1242.1 920.0 L1245.0 919.3 L1247.4 920.6 L1249.7 926.3 L1252.6 936.8 L1254.5 945.3 L1255.8 940.6 L1257.7 935.2 L1259.6 941.5 L1261.1 940.6 L1264.0 946.2 L1265.8 936.8 L1267.2 928.8 L1269.1 934.9 L1271.5 938.7 L1274.0 947.2 L1275.3 951.0 L1277.2 954.8 L1279.5 962.4 L1282.0 954.8 L1283.5 965.2 L1286.2 965.2 L1288.6 951.9 L1290.2 951.0 L1291.5 957.6 L1293.4 956.1 L1296.2 965.2 L1298.1 969.0 L1300.0 971.9 L1302.3 983.9 L1303.8 975.7 L1305.7 965.2 L1308.0 959.2 L1310.9 971.9 L1312.4 965.2 L1313.7 950.0 L1315.8 938.7 L1317.7 917.8 L1319.0 913.0 L1320.6 921.6 L1321.9 913.6 L1323.8 923.5 L1325.7 915.9 L1328.0 928.2 L1330.0 921.6 L1331.4 915.5 L1332.9 920.6 L1334.8 914.9 L1336.7 908.3 L1338.0 902.6 L1339.9 909.2 L1341.8 914.0 L1343.7 909.8 L1346.2 910.5 L1348.5 913.6 L1350.4 916.8 L1352.6 915.9 L1355.1 919.7 L1357.0 923.5 L1359.5 927.6 L1362.1 934.5 L1364.0 929.2 L1365.9 921.2 L1368.4 930.1 L1370.9 936.8 L1373.2 950.0 L1374.7 962.4 L1377.0 959.5 L1378.9 959.2 L1381.3 961.4 L1383.7 962.4 L1385.3 970.9 L1386.6 975.7 L1388.5 970.0 L1389.8 970.9 L1391.0 982.3 L1392.3 990.9 L1393.8 989.9 L1395.1 975.7 L1397.0 962.4 L1398.0 961.4 L1399.9 972.8 L1401.4 969.0 L1402.7 972.8 L1404.1 955.7 L1405.6 951.0 L1408.4 950.0 L1410.0 957.6 L1411.3 962.4 L1414.1 969.0 L1416.0 970.0 L1419.4 969.0 L1420.8 957.6 L1422.3 951.6 L1423.6 956.7 L1425.5 968.1 L1426.9 978.5 L1428.0 991.8 L1428.9 1001.3 L1430.3 1008.0 L1431.8 1001.3 L1433.5 988.0 L1435.0 987.1 L1436.5 978.5 L1437.9 969.0 L1439.8 975.7 L1441.7 971.9 L1443.6 972.8 L1446.4 969.0 L1448.9 963.3 L1450.2 961.8 L1452.7 962.4 L1454.4 968.1 L1455.9 972.5 L1458.4 972.5 L1460.3 963.3 L1461.6 951.9 L1462.6 942.5 L1465.4 945.3 L1466.4 921.6 L1467.7 893.1 L1469.2 881.7 L1471.1 880.7 L1472.4 893.1 L1474.5 888.3 L1475.9 900.7 L1477.4 913.0 L1479.1 908.3 L1480.2 893.1 L1481.6 889.3 L1483.1 903.5 L1484.4 912.1 L1486.3 915.5 L1488.8 914.9 L1490.5 920.6 L1493.0 917.8 L1494.3 909.2 L1495.4 908.3 L1496.4 923.5 L1498.1 927.3 L1500.2 923.5 L1501.5 914.9 L1502.5 914.0 L1504.0 921.6 L1506.2 923.8 L1508.5 921.6 L1510.6 918.7 L1511.9 912.1 L1512.9 893.1 L1514.2 895.9 L1516.7 892.1 L1518.0 904.5 L1519.5 914.0 L1521.4 917.8 L1523.7 915.9 L1526.2 919.7 L1528.1 922.5 L1530.0 920.6 L1531.9 916.8 L1533.8 916.8 L1535.1 930.1 L1536.6 929.2 L1538.5 913.0 L1540.1 929.2 L1542.0 931.1 L1543.9 930.7 L1545.2 929.2 L1547.1 934.9 L1548.4 931.1 L1549.9 918.7 L1550.9 914.9 L1552.2 925.4 L1553.7 932.0 L1555.6 924.4 L1557.0 922.5 L1558.5 936.8 L1560.4 949.1 L1561.9 936.8 L1563.2 925.4 L1565.5 930.1 L1567.0 929.2 L1568.5 935.8 L1569.9 940.9 L1571.8 936.8 L1572.7 932.0 L1574.6 935.8 L1577.1 930.1 L1578.4 933.9 L1580.3 929.2 L1582.2 925.4 L1584.1 919.7 L1586.0 916.8 L1587.5 914.9 L1588.9 924.4 L1590.8 926.9 L1594.6 926.9 L1596.1 918.7 L1597.4 916.8 L1599.3 921.6 L1601.2 916.8 L1602.7 915.9 L1604.1 917.8 L1606.0 915.9 L1606.9 911.1 L1609.2 906.0 L1611.7 909.8 L1614.1 909.8 L1616.4 905.4 L1618.7 907.3 L1621.2 914.0 L1623.1 914.0 L1625.0 918.7 L1626.9 921.9 L1628.8 919.7 L1629.7 914.9 L1632.0 913.0 L1633.9 914.0 L1635.4 907.3 L1636.9 914.0 L1638.3 907.3 L1640.2 909.2 L1643.0 908.6 L1644.9 910.2 L1646.4 917.8 L1647.7 919.7 L1650.6 918.7 L1653.4 917.8 L1655.3 910.2 L1656.3 898.8 L1658.2 897.8 L1660.1 890.2 L1662.0 888.3 L1663.9 887.4 L1666.2 885.1 L1667.7 893.1 L1669.2 900.7 L1671.1 895.9 L1672.4 891.2 L1674.3 893.1 L1676.2 891.2 L1678.1 888.9 L1681.0 886.4 L1682.9 879.8 L1685.2 883.6 L1686.7 889.6 L1689.5 889.3 L1691.4 887.7 L1693.3 890.2 L1695.2 888.3 L1696.2 896.9 L1697.7 891.2 L1700.0 898.8 L1701.9 901.6 L1703.4 903.5 L1705.3 896.9 L1706.6 890.2 L1708.0 898.8 L1709.9 906.4 L1711.4 898.8 L1712.9 891.2 L1714.8 887.4 L1717.1 885.5 L1719.0 887.7 L1720.5 891.2 L1722.8 884.5 L1724.7 882.6 L1726.6 887.4 L1728.5 886.4 L1730.8 890.2 L1732.6 896.9 L1734.2 899.7 L1736.1 895.0 L1738.0 889.3 L1739.9 882.6 L1741.8 876.9 L1743.3 874.5 L1745.2 875.0 L1746.5 882.6 L1748.4 883.6 L1750.3 882.6 L1753.2 884.5 L1756.0 882.6 L1757.9 881.7 L1758.9 868.4 L1760.8 860.3 L1762.5 851.2 L1763.6 845.5 L1764.8 843.8 L1766.2 843.0 L1767.0 850.0 L1767.9 862.6 L1768.7 867.1 L1770.1 866.6 L1771.0 858.0 L1771.9 847.2 L1773.1 847.5 L1773.9 858.0 L1775.0 852.3 L1776.2 850.0 L1777.3 851.2 L1778.4 850.0 L1779.6 858.0 L1780.7 854.6 L1781.9 858.9 L1782.6 848.3 L1784.1 848.3 L1785.3 854.6 L1786.4 852.3 L1788.1 853.4 L1789.5 859.1 L1791.0 866.0 L1792.7 872.3 L1794.0 870.0 L1795.5 863.7 L1796.7 858.0 L1798.4 856.9 L1799.7 854.6 L1801.2 850.6 L1802.9 849.5 L1804.3 849.1 L1805.2 853.4 L1806.9 856.9 L1807.8 860.9 L1809.2 858.0 L1810.9 856.9 L1812.6 856.9 L1814.1 858.0 L1815.2 862.6 L1816.0 874.0 L1816.8 883.1 L1817.7 889.9 L1818.9 894.5 L1820.6 895.6 L1821.7 888.8 L1822.9 886.5 L1823.7 899.6 L1824.8 894.5 L1825.7 891.1 L1826.9 898.5 L1828.0 893.9 L1829.4 900.2 L1830.3 891.1 L1831.4 890.5 L1832.6 894.5 L1833.7 899.6 L1834.8 903.0 L1836.0 891.1 L1837.1 889.9 L1838.5 892.8 L1839.6 896.8 L1840.8 892.2 L1842.8 893.3 L1844.5 895.0 L1846.0 899.0 L1847.4 905.3 L1848.5 907.0 L1849.7 896.8 L1850.6 886.5 L1851.4 885.9 L1852.5 888.8 L1854.2 891.1 L1855.4 889.9 L1856.3 900.2 L1857.2 910.0 L1858.1 914.4 L1859.9 910.0 L1861.1 901.3 L1862.2 898.5 L1863.9 900.7 L1865.6 898.5 L1867.3 897.9 L1868.5 893.9 L1869.6 892.2 L1871.3 893.3 L1872.5 888.8 L1873.8 887.1 L1875.3 887.6 L1877.0 887.1 L1878.1 888.8 L1879.5 883.1 L1881.0 886.5 L1882.1 887.6 L1883.8 886.5 L1885.6 884.8 L1886.4 879.7 L1887.8 876.2 L1889.0 880.2 L1890.7 877.4 L1891.6 868.3 L1892.4 856.9 L1893.5 850.0 L1895.2 848.9 L1897.3 848.3 L1898.7 856.9 L1900.0 862.0 L1901.5 858.6 L1902.6 851.2 L1903.4 837.5 L1904.4 834.6 L1905.5 844.3 L1906.6 855.7 L1907.8 855.5 L1909.1 850.0 L1910.6 842.1 L1912.3 836.4 L1913.5 831.8 L1913.8 817.0 L1913.9 805.6 L1913.9 800.1 L1913.9 626 L19.0 626 Z" fill="url(#rg)" clip-path="url(#cBot)"/>
<line x1="20" y1="626" x2="1930" y2="626" stroke="#758696" stroke-width="2" stroke-dasharray="2 8" clip-path="url(#cPane)"/>
<g fill="none" stroke-width="4" stroke-linejoin="round" stroke-linecap="round"><path d="M19.0 562.3 L20.3 567.1 L22.8 581.3 L25.3 590.4 L28.5 584.2 L30.4 575.6 L32.7 555.7 L34.2 552.8 L37.0 556.6 L38.9 550.9 L41.4 531.6 L44.1 550.0 L46.2 547.1 L48.4 531.9 L49.8 526.2 L51.7 507.3 L53.8 501.9 L56.0 511.1 L57.9 510.7 L59.8 522.5 L61.9 531.6 L64.6 514.9 L66.1 510.1 L68.8 512.0 L70.7 511.1 L72.2 511.1 L74.1 519.6 L76.0 497.8 L76.9 493.0 L78.8 497.8 L80.2 490.2 L81.1 456.0 L82.1 427.5 L83.6 399.0 L84.5 368.4 L86.4 339.9 L87.4 333.3 L88.9 345.6 L90.4 311.4 L93.1 340.9 L95.5 301.9 L97.8 303.8 L100.3 323.8 L103.1 296.2 L104.1 244.0 L106.0 255.4 L108.6 207.0 L110.9 168.0 L112.1 222.2 L114.0 207.0 L114.9 339.9 L115.5 400.0 L115.9 409.4 L118.1 410.4 L120.0 433.6 L123.1 402.4 L124.4 410.4 L125.7 439.3 L127.6 424.6 L129.2 423.7 L130.1 399.0 L131.1 365.6 L133.9 383.6 L134.9 377.9 L135.8 391.2 L137.1 384.6 L138.7 396.9 L140.6 393.1 L142.5 391.2 L144.3 377.9 L146.6 349.4 L149.1 296.2 L150.4 279.2 L151.9 294.3 L153.5 336.1 L155.7 323.8 L158.0 336.1 L159.5 329.5 L161.1 330.4 L162.6 358.0 L164.9 352.3 L167.1 332.3 L170.4 325.7 L172.3 337.1 L174.7 324.7 L177.2 312.4 L179.5 315.2 L181.6 285.2 L183.3 315.2 L185.8 335.2 L187.5 320.9 L189.9 336.1 L193.7 364.6 L197.5 368.4 L200.4 343.7 L202.8 345.6 L204.7 354.2 L207.4 328.5 L210.4 347.5 L212.7 395.0 L214.6 383.6 L218.4 374.1 L220.7 352.3 L223.7 374.1 L226.0 359.9 L229.4 368.4 L231.7 349.4 L234.6 314.3 L236.5 332.3 L238.7 337.1 L241.2 312.4 L244.1 324.7 L246.9 312.4 L248.8 319.0 L250.7 333.3 L255.5 331.4 L257.7 317.1 L259.3 336.1 L261.7 321.9 L265.0 341.8 L267.8 344.7 L271.2 335.2 L272.9 352.3 L276.4 343.7 L278.3 328.5 L280.7 319.0 L284.0 324.7 L287.2 317.5 L289.1 328.5 L290.6 322.8 L292.5 341.8 L295.3 349.4 L298.2 343.7 L301.0 334.2 L304.8 339.9 L308.1 348.5 L312.4 344.7 L314.3 317.1 L316.2 315.2 L318.1 291.5 L320.0 290.6 L322.3 283.9 L325.2 293.4 L328.2 278.8 L331.4 288.7 L333.9 283.0 L336.6 303.8 L339.0 313.3 L341.5 317.5 L343.4 299.1 L346.6 301.0 L349.1 289.6 L351.4 299.1 L355.2 292.5 L359.9 296.2 L361.8 311.4 L363.7 312.4 L365.6 319.0 L368.5 323.2 L370.4 323.2 L371.9 308.6 L374.5 321.9 L377.0 351.3 L379.9 350.4 L381.4 352.3 L383.7 330.4 L386.9 329.5 L389.4 343.7 L391.3 351.3 L393.2 347.5 L395.1 355.1 L397.3 346.6 L400.0 349.4 L401.3 346.9 L403.0 364.0 L405.6 353.5 L408.5 346.9 L411.3 343.1 L414.2 345.9 L417.6 346.9 L419.3 361.1 L421.4 339.3 L423.3 329.4 L425.6 348.8 L427.5 345.0 L429.8 347.8 L431.7 352.6 L433.2 367.8 L434.5 365.9 L436.0 379.2 L437.0 373.5 L438.5 388.7 L440.8 375.4 L442.7 381.1 L444.2 376.3 L446.5 391.5 L448.0 387.7 L449.9 400.0 L451.2 411.4 L453.1 442.2 L455.0 437.1 L457.5 431.4 L458.8 441.8 L460.2 458.0 L461.7 451.3 L462.6 464.6 L464.1 450.4 L465.5 476.6 L466.8 514.6 L467.7 550.7 L469.3 554.5 L470.8 541.2 L472.1 526.0 L473.6 527.9 L475.0 507.0 L476.5 491.8 L477.8 483.2 L479.7 499.4 L481.6 490.8 L483.5 502.2 L485.0 505.1 L487.3 530.7 L489.2 513.6 L491.1 510.8 L492.6 529.8 L494.0 545.9 L495.9 527.9 L498.1 514.6 L499.7 494.6 L501.2 488.9 L502.5 489.9 L504.4 511.7 L506.9 507.0 L508.8 530.7 L510.7 507.9 L512.4 526.0 L514.5 526.0 L516.8 537.4 L519.0 538.3 L520.2 559.2 L522.1 545.9 L523.8 523.1 L525.3 508.9 L526.6 512.7 L528.1 505.1 L530.0 516.5 L531.9 516.5 L533.8 529.8 L535.4 529.8 L536.7 542.1 L538.0 538.3 L539.9 548.8 L541.4 558.3 L543.0 564.0 L544.9 555.4 L546.6 541.2 L548.5 538.9 L550.0 543.1 L551.5 571.6 L552.5 588.3 L553.8 579.2 L555.3 550.7 L556.6 524.1 L558.2 531.7 L560.4 516.1 L562.0 527.9 L563.3 526.0 L564.6 541.2 L567.1 544.0 L568.6 545.0 L570.1 557.3 L572.2 553.5 L573.7 545.0 L575.3 529.8 L577.0 526.0 L578.9 529.8 L580.9 539.3 L583.6 528.3 L586.1 537.7 L588.4 536.4 L589.9 528.8 L591.8 520.3 L593.3 530.7 L594.6 515.5 L598.0 514.6 L600.3 520.3 L602.6 528.8 L604.1 528.8 L606.0 537.4 L608.5 544.0 L610.2 556.4 L612.1 571.6 L613.6 590.6 L615.5 600.0 L617.4 594.3 L618.9 613.3 L621.2 623.8 L622.7 592.5 L624.4 603.8 L625.6 617.1 L626.9 596.2 L628.8 600.0 L630.3 615.2 L631.7 613.3 L632.8 625.7 L633.6 658.9 L634.1 685.5 L635.7 707.0 L636.5 731.7 L637.4 745.0 L638.6 748.8 L639.5 715.5 L640.8 741.2 L642.2 759.2 L643.3 747.8 L644.8 783.0 L646.2 764.0 L647.5 737.4 L649.0 729.8 L650.3 726.0 L651.9 734.5 L653.8 729.8 L655.7 727.9 L657.0 735.5 L658.5 756.4 L659.8 732.6 L661.2 753.5 L662.7 739.3 L664.0 727.9 L665.5 749.7 L666.9 743.1 L667.8 767.8 L669.3 779.2 L671.8 789.6 L673.1 766.8 L674.6 762.1 L676.0 752.6 L677.3 771.6 L678.4 789.6 L680.2 794.0 L681.7 755.4 L683.6 765.9 L685.5 750.7 L687.4 762.1 L689.3 758.3 L691.2 752.6 L692.7 759.2 L694.0 771.6 L695.5 786.8 L696.9 807.6 L697.8 807.6 L699.1 817.1 L700.7 830.4 L702.0 824.7 L703.5 841.8 L705.0 829.5 L706.4 837.1 L707.7 858.9 L708.8 839.9 L710.2 876.0 L712.1 858.9 L714.0 835.2 L715.9 849.4 L716.8 863.7 L718.7 866.5 L721.0 891.2 L722.5 868.4 L723.8 849.4 L725.4 864.6 L726.9 887.4 L728.2 904.2 L729.5 916.5 L731.1 900.4 L732.4 896.6 L734.3 904.2 L735.2 925.1 L736.4 949.8 L737.1 967.8 L738.7 939.3 L740.0 961.2 L741.5 984.0 L742.8 999.2 L744.0 1012.5 L745.3 1032.4 L746.8 1001.1 L748.5 1003.0 L749.7 1014.3 L751.4 1001.1 L752.5 1003.0 L753.8 1021.9 L755.4 1056.1 L756.7 1082.7 L757.6 1102.7 L758.6 1069.4 L759.5 1040.9 L761.1 1016.2 L762.8 997.3 L764.9 1004.9 L766.2 991.6 L767.1 969.7 L769.0 980.2 L770.9 989.7 L772.5 1006.8 L774.0 1031.8 L775.3 1006.8 L776.6 989.7 L778.5 987.8 L780.8 983.0 L782.7 987.8 L784.6 999.2 L786.3 1005.8 L788.0 995.4 L789.9 982.1 L791.8 986.8 L793.4 985.9 L795.6 972.6 L797.2 951.7 L798.5 930.8 L800.9 923.2 L802.3 934.6 L804.7 940.3 L806.1 930.8 L807.6 915.6 L809.9 920.3 L811.8 911.8 L814.6 909.9 L816.5 920.3 L818.4 933.6 L820.3 923.2 L822.2 940.3 L823.7 947.9 L825.1 951.7 L826.6 957.7 L828.9 953.6 L831.1 952.6 L832.7 934.6 L834.0 930.4 L835.5 940.3 L837.0 951.7 L839.3 955.5 L840.8 965.9 L842.2 957.4 L843.3 972.6 L845.0 961.2 L846.9 940.3 L848.8 926.0 L851.1 917.1 L853.6 923.2 L855.5 922.2 L857.9 934.6 L860.2 915.6 L862.5 910.3 L864.0 921.3 L865.3 930.8 L867.8 935.5 L870.7 939.3 L873.1 936.5 L874.8 927.0 L876.4 919.4 L879.2 919.4 L881.7 924.1 L884.0 935.5 L886.8 930.8 L889.1 918.4 L892.5 916.5 L895.3 916.5 L897.2 923.2 L898.8 934.6 L901.0 928.9 L902.9 929.8 L904.5 926.0 L906.7 927.0 L908.6 918.4 L910.5 908.0 L912.8 904.2 L914.3 892.8 L915.7 877.6 L918.1 873.8 L920.6 889.0 L922.5 875.7 L923.8 874.7 L926.3 881.4 L928.6 894.7 L929.9 902.3 L932.4 905.5 L936.2 904.2 L939.0 901.3 L940.9 893.7 L943.8 883.3 L948.0 872.3 L950.4 882.3 L951.8 881.4 L953.3 888.0 L955.2 873.8 L957.1 871.5 L959.9 876.6 L961.4 886.1 L963.3 874.7 L965.6 872.8 L968.5 873.4 L970.4 871.9 L973.8 870.9 L977.0 877.6 L979.5 885.2 L982.1 882.9 L985.6 889.9 L987.5 899.4 L990.3 900.4 L992.2 898.5 L994.1 906.1 L995.4 913.7 L997.9 903.2 L999.0 901.6 L1000.9 904.1 L1003.2 900.7 L1004.7 890.2 L1006.6 887.7 L1008.5 887.0 L1010.8 883.6 L1012.7 882.6 L1014.2 876.9 L1015.7 877.9 L1017.0 871.2 L1019.3 867.4 L1021.8 868.8 L1024.1 880.7 L1025.6 876.0 L1029.0 871.2 L1030.9 858.9 L1032.8 852.2 L1035.1 851.7 L1037.5 850.9 L1039.3 862.7 L1041.2 873.1 L1043.1 876.5 L1045.5 873.1 L1048.4 872.2 L1052.2 869.9 L1054.1 860.8 L1056.4 856.0 L1058.3 860.4 L1059.8 871.2 L1062.6 874.5 L1064.9 870.7 L1067.0 875.0 L1069.3 871.8 L1071.7 874.1 L1074.4 869.9 L1076.9 876.0 L1078.8 875.0 L1080.7 869.3 L1082.6 857.0 L1084.8 851.7 L1086.7 859.8 L1089.2 860.4 L1091.1 870.3 L1093.6 871.2 L1094.9 877.9 L1096.2 891.2 L1098.1 892.7 L1100.0 889.6 L1102.5 904.5 L1105.0 896.9 L1107.3 898.8 L1109.5 904.5 L1112.0 901.6 L1114.3 895.0 L1115.8 890.2 L1117.7 889.3 L1120.6 895.0 L1121.5 914.9 L1122.8 907.3 L1124.0 912.1 L1125.5 923.1 L1126.8 901.6 L1129.1 903.5 L1131.4 900.3 L1133.5 903.5 L1136.7 913.6 L1139.5 908.3 L1141.8 904.1 L1144.3 903.5 L1146.8 893.1 L1148.5 887.0 L1151.9 887.0 L1153.2 900.7 L1155.7 897.2 L1157.6 903.5 L1160.4 908.3 L1162.3 910.2 L1165.2 915.9 L1167.7 925.7 L1170.3 914.9 L1171.8 921.6 L1174.7 929.2 L1177.2 919.3 L1180.4 919.7 L1184.2 916.2 L1185.1 925.7 L1187.0 929.2 L1189.9 924.4 L1192.7 924.4 L1195.0 919.7 L1196.5 928.2 L1199.4 921.6 L1201.7 912.1 L1203.7 915.9 L1207.0 914.9 L1210.2 913.6 L1212.7 915.9 L1215.5 920.6 L1217.4 927.3 L1219.3 933.9 L1220.8 940.6 L1223.1 935.8 L1225.0 935.8 L1226.3 940.9 L1228.8 936.4 L1230.7 933.9 L1233.0 936.8 L1234.5 948.5 L1237.4 948.5 L1238.9 936.8 L1240.2 924.4 L1242.1 920.0 L1245.0 919.3 L1247.4 920.6 L1249.7 926.3 L1252.6 936.8 L1254.5 945.3 L1255.8 940.6 L1257.7 935.2 L1259.6 941.5 L1261.1 940.6 L1264.0 946.2 L1265.8 936.8 L1267.2 928.8 L1269.1 934.9 L1271.5 938.7 L1274.0 947.2 L1275.3 951.0 L1277.2 954.8 L1279.5 962.4 L1282.0 954.8 L1283.5 965.2 L1286.2 965.2 L1288.6 951.9 L1290.2 951.0 L1291.5 957.6 L1293.4 956.1 L1296.2 965.2 L1298.1 969.0 L1300.0 971.9 L1302.3 983.9 L1303.8 975.7 L1305.7 965.2 L1308.0 959.2 L1310.9 971.9 L1312.4 965.2 L1313.7 950.0 L1315.8 938.7 L1317.7 917.8 L1319.0 913.0 L1320.6 921.6 L1321.9 913.6 L1323.8 923.5 L1325.7 915.9 L1328.0 928.2 L1330.0 921.6 L1331.4 915.5 L1332.9 920.6 L1334.8 914.9 L1336.7 908.3 L1338.0 902.6 L1339.9 909.2 L1341.8 914.0 L1343.7 909.8 L1346.2 910.5 L1348.5 913.6 L1350.4 916.8 L1352.6 915.9 L1355.1 919.7 L1357.0 923.5 L1359.5 927.6 L1362.1 934.5 L1364.0 929.2 L1365.9 921.2 L1368.4 930.1 L1370.9 936.8 L1373.2 950.0 L1374.7 962.4 L1377.0 959.5 L1378.9 959.2 L1381.3 961.4 L1383.7 962.4 L1385.3 970.9 L1386.6 975.7 L1388.5 970.0 L1389.8 970.9 L1391.0 982.3 L1392.3 990.9 L1393.8 989.9 L1395.1 975.7 L1397.0 962.4 L1398.0 961.4 L1399.9 972.8 L1401.4 969.0 L1402.7 972.8 L1404.1 955.7 L1405.6 951.0 L1408.4 950.0 L1410.0 957.6 L1411.3 962.4 L1414.1 969.0 L1416.0 970.0 L1419.4 969.0 L1420.8 957.6 L1422.3 951.6 L1423.6 956.7 L1425.5 968.1 L1426.9 978.5 L1428.0 991.8 L1428.9 1001.3 L1430.3 1008.0 L1431.8 1001.3 L1433.5 988.0 L1435.0 987.1 L1436.5 978.5 L1437.9 969.0 L1439.8 975.7 L1441.7 971.9 L1443.6 972.8 L1446.4 969.0 L1448.9 963.3 L1450.2 961.8 L1452.7 962.4 L1454.4 968.1 L1455.9 972.5 L1458.4 972.5 L1460.3 963.3 L1461.6 951.9 L1462.6 942.5 L1465.4 945.3 L1466.4 921.6 L1467.7 893.1 L1469.2 881.7 L1471.1 880.7 L1472.4 893.1 L1474.5 888.3 L1475.9 900.7 L1477.4 913.0 L1479.1 908.3 L1480.2 893.1 L1481.6 889.3 L1483.1 903.5 L1484.4 912.1 L1486.3 915.5 L1488.8 914.9 L1490.5 920.6 L1493.0 917.8 L1494.3 909.2 L1495.4 908.3 L1496.4 923.5 L1498.1 927.3 L1500.2 923.5 L1501.5 914.9 L1502.5 914.0 L1504.0 921.6 L1506.2 923.8 L1508.5 921.6 L1510.6 918.7 L1511.9 912.1 L1512.9 893.1 L1514.2 895.9 L1516.7 892.1 L1518.0 904.5 L1519.5 914.0 L1521.4 917.8 L1523.7 915.9 L1526.2 919.7 L1528.1 922.5 L1530.0 920.6 L1531.9 916.8 L1533.8 916.8 L1535.1 930.1 L1536.6 929.2 L1538.5 913.0 L1540.1 929.2 L1542.0 931.1 L1543.9 930.7 L1545.2 929.2 L1547.1 934.9 L1548.4 931.1 L1549.9 918.7 L1550.9 914.9 L1552.2 925.4 L1553.7 932.0 L1555.6 924.4 L1557.0 922.5 L1558.5 936.8 L1560.4 949.1 L1561.9 936.8 L1563.2 925.4 L1565.5 930.1 L1567.0 929.2 L1568.5 935.8 L1569.9 940.9 L1571.8 936.8 L1572.7 932.0 L1574.6 935.8 L1577.1 930.1 L1578.4 933.9 L1580.3 929.2 L1582.2 925.4 L1584.1 919.7 L1586.0 916.8 L1587.5 914.9 L1588.9 924.4 L1590.8 926.9 L1594.6 926.9 L1596.1 918.7 L1597.4 916.8 L1599.3 921.6 L1601.2 916.8 L1602.7 915.9 L1604.1 917.8 L1606.0 915.9 L1606.9 911.1 L1609.2 906.0 L1611.7 909.8 L1614.1 909.8 L1616.4 905.4 L1618.7 907.3 L1621.2 914.0 L1623.1 914.0 L1625.0 918.7 L1626.9 921.9 L1628.8 919.7 L1629.7 914.9 L1632.0 913.0 L1633.9 914.0 L1635.4 907.3 L1636.9 914.0 L1638.3 907.3 L1640.2 909.2 L1643.0 908.6 L1644.9 910.2 L1646.4 917.8 L1647.7 919.7 L1650.6 918.7 L1653.4 917.8 L1655.3 910.2 L1656.3 898.8 L1658.2 897.8 L1660.1 890.2 L1662.0 888.3 L1663.9 887.4 L1666.2 885.1 L1667.7 893.1 L1669.2 900.7 L1671.1 895.9 L1672.4 891.2 L1674.3 893.1 L1676.2 891.2 L1678.1 888.9 L1681.0 886.4 L1682.9 879.8 L1685.2 883.6 L1686.7 889.6 L1689.5 889.3 L1691.4 887.7 L1693.3 890.2 L1695.2 888.3 L1696.2 896.9 L1697.7 891.2 L1700.0 898.8 L1701.9 901.6 L1703.4 903.5 L1705.3 896.9 L1706.6 890.2 L1708.0 898.8 L1709.9 906.4 L1711.4 898.8 L1712.9 891.2 L1714.8 887.4 L1717.1 885.5 L1719.0 887.7 L1720.5 891.2 L1722.8 884.5 L1724.7 882.6 L1726.6 887.4 L1728.5 886.4 L1730.8 890.2 L1732.6 896.9 L1734.2 899.7 L1736.1 895.0 L1738.0 889.3 L1739.9 882.6 L1741.8 876.9 L1743.3 874.5 L1745.2 875.0 L1746.5 882.6 L1748.4 883.6 L1750.3 882.6 L1753.2 884.5 L1756.0 882.6 L1757.9 881.7 L1758.9 868.4 L1760.8 860.3 L1762.5 851.2 L1763.6 845.5 L1764.8 843.8 L1766.2 843.0 L1767.0 850.0 L1767.9 862.6 L1768.7 867.1 L1770.1 866.6 L1771.0 858.0 L1771.9 847.2 L1773.1 847.5 L1773.9 858.0 L1775.0 852.3 L1776.2 850.0 L1777.3 851.2 L1778.4 850.0 L1779.6 858.0 L1780.7 854.6 L1781.9 858.9 L1782.6 848.3 L1784.1 848.3 L1785.3 854.6 L1786.4 852.3 L1788.1 853.4 L1789.5 859.1 L1791.0 866.0 L1792.7 872.3 L1794.0 870.0 L1795.5 863.7 L1796.7 858.0 L1798.4 856.9 L1799.7 854.6 L1801.2 850.6 L1802.9 849.5 L1804.3 849.1 L1805.2 853.4 L1806.9 856.9 L1807.8 860.9 L1809.2 858.0 L1810.9 856.9 L1812.6 856.9 L1814.1 858.0 L1815.2 862.6 L1816.0 874.0 L1816.8 883.1 L1817.7 889.9 L1818.9 894.5 L1820.6 895.6 L1821.7 888.8 L1822.9 886.5 L1823.7 899.6 L1824.8 894.5 L1825.7 891.1 L1826.9 898.5 L1828.0 893.9 L1829.4 900.2 L1830.3 891.1 L1831.4 890.5 L1832.6 894.5 L1833.7 899.6 L1834.8 903.0 L1836.0 891.1 L1837.1 889.9 L1838.5 892.8 L1839.6 896.8 L1840.8 892.2 L1842.8 893.3 L1844.5 895.0 L1846.0 899.0 L1847.4 905.3 L1848.5 907.0 L1849.7 896.8 L1850.6 886.5 L1851.4 885.9 L1852.5 888.8 L1854.2 891.1 L1855.4 889.9 L1856.3 900.2 L1857.2 910.0 L1858.1 914.4 L1859.9 910.0 L1861.1 901.3 L1862.2 898.5 L1863.9 900.7 L1865.6 898.5 L1867.3 897.9 L1868.5 893.9 L1869.6 892.2 L1871.3 893.3 L1872.5 888.8 L1873.8 887.1 L1875.3 887.6 L1877.0 887.1 L1878.1 888.8 L1879.5 883.1 L1881.0 886.5 L1882.1 887.6 L1883.8 886.5 L1885.6 884.8 L1886.4 879.7 L1887.8 876.2 L1889.0 880.2 L1890.7 877.4 L1891.6 868.3 L1892.4 856.9 L1893.5 850.0 L1895.2 848.9 L1897.3 848.3 L1898.7 856.9 L1900.0 862.0 L1901.5 858.6 L1902.6 851.2 L1903.4 837.5 L1904.4 834.6 L1905.5 844.3 L1906.6 855.7 L1907.8 855.5 L1909.1 850.0 L1910.6 842.1 L1912.3 836.4 L1913.5 831.8 L1913.8 817.0 L1913.9 805.6 L1913.9 800.1" stroke="#089981" clip-path="url(#cTop)"/><path d="M19.0 562.3 L20.3 567.1 L22.8 581.3 L25.3 590.4 L28.5 584.2 L30.4 575.6 L32.7 555.7 L34.2 552.8 L37.0 556.6 L38.9 550.9 L41.4 531.6 L44.1 550.0 L46.2 547.1 L48.4 531.9 L49.8 526.2 L51.7 507.3 L53.8 501.9 L56.0 511.1 L57.9 510.7 L59.8 522.5 L61.9 531.6 L64.6 514.9 L66.1 510.1 L68.8 512.0 L70.7 511.1 L72.2 511.1 L74.1 519.6 L76.0 497.8 L76.9 493.0 L78.8 497.8 L80.2 490.2 L81.1 456.0 L82.1 427.5 L83.6 399.0 L84.5 368.4 L86.4 339.9 L87.4 333.3 L88.9 345.6 L90.4 311.4 L93.1 340.9 L95.5 301.9 L97.8 303.8 L100.3 323.8 L103.1 296.2 L104.1 244.0 L106.0 255.4 L108.6 207.0 L110.9 168.0 L112.1 222.2 L114.0 207.0 L114.9 339.9 L115.5 400.0 L115.9 409.4 L118.1 410.4 L120.0 433.6 L123.1 402.4 L124.4 410.4 L125.7 439.3 L127.6 424.6 L129.2 423.7 L130.1 399.0 L131.1 365.6 L133.9 383.6 L134.9 377.9 L135.8 391.2 L137.1 384.6 L138.7 396.9 L140.6 393.1 L142.5 391.2 L144.3 377.9 L146.6 349.4 L149.1 296.2 L150.4 279.2 L151.9 294.3 L153.5 336.1 L155.7 323.8 L158.0 336.1 L159.5 329.5 L161.1 330.4 L162.6 358.0 L164.9 352.3 L167.1 332.3 L170.4 325.7 L172.3 337.1 L174.7 324.7 L177.2 312.4 L179.5 315.2 L181.6 285.2 L183.3 315.2 L185.8 335.2 L187.5 320.9 L189.9 336.1 L193.7 364.6 L197.5 368.4 L200.4 343.7 L202.8 345.6 L204.7 354.2 L207.4 328.5 L210.4 347.5 L212.7 395.0 L214.6 383.6 L218.4 374.1 L220.7 352.3 L223.7 374.1 L226.0 359.9 L229.4 368.4 L231.7 349.4 L234.6 314.3 L236.5 332.3 L238.7 337.1 L241.2 312.4 L244.1 324.7 L246.9 312.4 L248.8 319.0 L250.7 333.3 L255.5 331.4 L257.7 317.1 L259.3 336.1 L261.7 321.9 L265.0 341.8 L267.8 344.7 L271.2 335.2 L272.9 352.3 L276.4 343.7 L278.3 328.5 L280.7 319.0 L284.0 324.7 L287.2 317.5 L289.1 328.5 L290.6 322.8 L292.5 341.8 L295.3 349.4 L298.2 343.7 L301.0 334.2 L304.8 339.9 L308.1 348.5 L312.4 344.7 L314.3 317.1 L316.2 315.2 L318.1 291.5 L320.0 290.6 L322.3 283.9 L325.2 293.4 L328.2 278.8 L331.4 288.7 L333.9 283.0 L336.6 303.8 L339.0 313.3 L341.5 317.5 L343.4 299.1 L346.6 301.0 L349.1 289.6 L351.4 299.1 L355.2 292.5 L359.9 296.2 L361.8 311.4 L363.7 312.4 L365.6 319.0 L368.5 323.2 L370.4 323.2 L371.9 308.6 L374.5 321.9 L377.0 351.3 L379.9 350.4 L381.4 352.3 L383.7 330.4 L386.9 329.5 L389.4 343.7 L391.3 351.3 L393.2 347.5 L395.1 355.1 L397.3 346.6 L400.0 349.4 L401.3 346.9 L403.0 364.0 L405.6 353.5 L408.5 346.9 L411.3 343.1 L414.2 345.9 L417.6 346.9 L419.3 361.1 L421.4 339.3 L423.3 329.4 L425.6 348.8 L427.5 345.0 L429.8 347.8 L431.7 352.6 L433.2 367.8 L434.5 365.9 L436.0 379.2 L437.0 373.5 L438.5 388.7 L440.8 375.4 L442.7 381.1 L444.2 376.3 L446.5 391.5 L448.0 387.7 L449.9 400.0 L451.2 411.4 L453.1 442.2 L455.0 437.1 L457.5 431.4 L458.8 441.8 L460.2 458.0 L461.7 451.3 L462.6 464.6 L464.1 450.4 L465.5 476.6 L466.8 514.6 L467.7 550.7 L469.3 554.5 L470.8 541.2 L472.1 526.0 L473.6 527.9 L475.0 507.0 L476.5 491.8 L477.8 483.2 L479.7 499.4 L481.6 490.8 L483.5 502.2 L485.0 505.1 L487.3 530.7 L489.2 513.6 L491.1 510.8 L492.6 529.8 L494.0 545.9 L495.9 527.9 L498.1 514.6 L499.7 494.6 L501.2 488.9 L502.5 489.9 L504.4 511.7 L506.9 507.0 L508.8 530.7 L510.7 507.9 L512.4 526.0 L514.5 526.0 L516.8 537.4 L519.0 538.3 L520.2 559.2 L522.1 545.9 L523.8 523.1 L525.3 508.9 L526.6 512.7 L528.1 505.1 L530.0 516.5 L531.9 516.5 L533.8 529.8 L535.4 529.8 L536.7 542.1 L538.0 538.3 L539.9 548.8 L541.4 558.3 L543.0 564.0 L544.9 555.4 L546.6 541.2 L548.5 538.9 L550.0 543.1 L551.5 571.6 L552.5 588.3 L553.8 579.2 L555.3 550.7 L556.6 524.1 L558.2 531.7 L560.4 516.1 L562.0 527.9 L563.3 526.0 L564.6 541.2 L567.1 544.0 L568.6 545.0 L570.1 557.3 L572.2 553.5 L573.7 545.0 L575.3 529.8 L577.0 526.0 L578.9 529.8 L580.9 539.3 L583.6 528.3 L586.1 537.7 L588.4 536.4 L589.9 528.8 L591.8 520.3 L593.3 530.7 L594.6 515.5 L598.0 514.6 L600.3 520.3 L602.6 528.8 L604.1 528.8 L606.0 537.4 L608.5 544.0 L610.2 556.4 L612.1 571.6 L613.6 590.6 L615.5 600.0 L617.4 594.3 L618.9 613.3 L621.2 623.8 L622.7 592.5 L624.4 603.8 L625.6 617.1 L626.9 596.2 L628.8 600.0 L630.3 615.2 L631.7 613.3 L632.8 625.7 L633.6 658.9 L634.1 685.5 L635.7 707.0 L636.5 731.7 L637.4 745.0 L638.6 748.8 L639.5 715.5 L640.8 741.2 L642.2 759.2 L643.3 747.8 L644.8 783.0 L646.2 764.0 L647.5 737.4 L649.0 729.8 L650.3 726.0 L651.9 734.5 L653.8 729.8 L655.7 727.9 L657.0 735.5 L658.5 756.4 L659.8 732.6 L661.2 753.5 L662.7 739.3 L664.0 727.9 L665.5 749.7 L666.9 743.1 L667.8 767.8 L669.3 779.2 L671.8 789.6 L673.1 766.8 L674.6 762.1 L676.0 752.6 L677.3 771.6 L678.4 789.6 L680.2 794.0 L681.7 755.4 L683.6 765.9 L685.5 750.7 L687.4 762.1 L689.3 758.3 L691.2 752.6 L692.7 759.2 L694.0 771.6 L695.5 786.8 L696.9 807.6 L697.8 807.6 L699.1 817.1 L700.7 830.4 L702.0 824.7 L703.5 841.8 L705.0 829.5 L706.4 837.1 L707.7 858.9 L708.8 839.9 L710.2 876.0 L712.1 858.9 L714.0 835.2 L715.9 849.4 L716.8 863.7 L718.7 866.5 L721.0 891.2 L722.5 868.4 L723.8 849.4 L725.4 864.6 L726.9 887.4 L728.2 904.2 L729.5 916.5 L731.1 900.4 L732.4 896.6 L734.3 904.2 L735.2 925.1 L736.4 949.8 L737.1 967.8 L738.7 939.3 L740.0 961.2 L741.5 984.0 L742.8 999.2 L744.0 1012.5 L745.3 1032.4 L746.8 1001.1 L748.5 1003.0 L749.7 1014.3 L751.4 1001.1 L752.5 1003.0 L753.8 1021.9 L755.4 1056.1 L756.7 1082.7 L757.6 1102.7 L758.6 1069.4 L759.5 1040.9 L761.1 1016.2 L762.8 997.3 L764.9 1004.9 L766.2 991.6 L767.1 969.7 L769.0 980.2 L770.9 989.7 L772.5 1006.8 L774.0 1031.8 L775.3 1006.8 L776.6 989.7 L778.5 987.8 L780.8 983.0 L782.7 987.8 L784.6 999.2 L786.3 1005.8 L788.0 995.4 L789.9 982.1 L791.8 986.8 L793.4 985.9 L795.6 972.6 L797.2 951.7 L798.5 930.8 L800.9 923.2 L802.3 934.6 L804.7 940.3 L806.1 930.8 L807.6 915.6 L809.9 920.3 L811.8 911.8 L814.6 909.9 L816.5 920.3 L818.4 933.6 L820.3 923.2 L822.2 940.3 L823.7 947.9 L825.1 951.7 L826.6 957.7 L828.9 953.6 L831.1 952.6 L832.7 934.6 L834.0 930.4 L835.5 940.3 L837.0 951.7 L839.3 955.5 L840.8 965.9 L842.2 957.4 L843.3 972.6 L845.0 961.2 L846.9 940.3 L848.8 926.0 L851.1 917.1 L853.6 923.2 L855.5 922.2 L857.9 934.6 L860.2 915.6 L862.5 910.3 L864.0 921.3 L865.3 930.8 L867.8 935.5 L870.7 939.3 L873.1 936.5 L874.8 927.0 L876.4 919.4 L879.2 919.4 L881.7 924.1 L884.0 935.5 L886.8 930.8 L889.1 918.4 L892.5 916.5 L895.3 916.5 L897.2 923.2 L898.8 934.6 L901.0 928.9 L902.9 929.8 L904.5 926.0 L906.7 927.0 L908.6 918.4 L910.5 908.0 L912.8 904.2 L914.3 892.8 L915.7 877.6 L918.1 873.8 L920.6 889.0 L922.5 875.7 L923.8 874.7 L926.3 881.4 L928.6 894.7 L929.9 902.3 L932.4 905.5 L936.2 904.2 L939.0 901.3 L940.9 893.7 L943.8 883.3 L948.0 872.3 L950.4 882.3 L951.8 881.4 L953.3 888.0 L955.2 873.8 L957.1 871.5 L959.9 876.6 L961.4 886.1 L963.3 874.7 L965.6 872.8 L968.5 873.4 L970.4 871.9 L973.8 870.9 L977.0 877.6 L979.5 885.2 L982.1 882.9 L985.6 889.9 L987.5 899.4 L990.3 900.4 L992.2 898.5 L994.1 906.1 L995.4 913.7 L997.9 903.2 L999.0 901.6 L1000.9 904.1 L1003.2 900.7 L1004.7 890.2 L1006.6 887.7 L1008.5 887.0 L1010.8 883.6 L1012.7 882.6 L1014.2 876.9 L1015.7 877.9 L1017.0 871.2 L1019.3 867.4 L1021.8 868.8 L1024.1 880.7 L1025.6 876.0 L1029.0 871.2 L1030.9 858.9 L1032.8 852.2 L1035.1 851.7 L1037.5 850.9 L1039.3 862.7 L1041.2 873.1 L1043.1 876.5 L1045.5 873.1 L1048.4 872.2 L1052.2 869.9 L1054.1 860.8 L1056.4 856.0 L1058.3 860.4 L1059.8 871.2 L1062.6 874.5 L1064.9 870.7 L1067.0 875.0 L1069.3 871.8 L1071.7 874.1 L1074.4 869.9 L1076.9 876.0 L1078.8 875.0 L1080.7 869.3 L1082.6 857.0 L1084.8 851.7 L1086.7 859.8 L1089.2 860.4 L1091.1 870.3 L1093.6 871.2 L1094.9 877.9 L1096.2 891.2 L1098.1 892.7 L1100.0 889.6 L1102.5 904.5 L1105.0 896.9 L1107.3 898.8 L1109.5 904.5 L1112.0 901.6 L1114.3 895.0 L1115.8 890.2 L1117.7 889.3 L1120.6 895.0 L1121.5 914.9 L1122.8 907.3 L1124.0 912.1 L1125.5 923.1 L1126.8 901.6 L1129.1 903.5 L1131.4 900.3 L1133.5 903.5 L1136.7 913.6 L1139.5 908.3 L1141.8 904.1 L1144.3 903.5 L1146.8 893.1 L1148.5 887.0 L1151.9 887.0 L1153.2 900.7 L1155.7 897.2 L1157.6 903.5 L1160.4 908.3 L1162.3 910.2 L1165.2 915.9 L1167.7 925.7 L1170.3 914.9 L1171.8 921.6 L1174.7 929.2 L1177.2 919.3 L1180.4 919.7 L1184.2 916.2 L1185.1 925.7 L1187.0 929.2 L1189.9 924.4 L1192.7 924.4 L1195.0 919.7 L1196.5 928.2 L1199.4 921.6 L1201.7 912.1 L1203.7 915.9 L1207.0 914.9 L1210.2 913.6 L1212.7 915.9 L1215.5 920.6 L1217.4 927.3 L1219.3 933.9 L1220.8 940.6 L1223.1 935.8 L1225.0 935.8 L1226.3 940.9 L1228.8 936.4 L1230.7 933.9 L1233.0 936.8 L1234.5 948.5 L1237.4 948.5 L1238.9 936.8 L1240.2 924.4 L1242.1 920.0 L1245.0 919.3 L1247.4 920.6 L1249.7 926.3 L1252.6 936.8 L1254.5 945.3 L1255.8 940.6 L1257.7 935.2 L1259.6 941.5 L1261.1 940.6 L1264.0 946.2 L1265.8 936.8 L1267.2 928.8 L1269.1 934.9 L1271.5 938.7 L1274.0 947.2 L1275.3 951.0 L1277.2 954.8 L1279.5 962.4 L1282.0 954.8 L1283.5 965.2 L1286.2 965.2 L1288.6 951.9 L1290.2 951.0 L1291.5 957.6 L1293.4 956.1 L1296.2 965.2 L1298.1 969.0 L1300.0 971.9 L1302.3 983.9 L1303.8 975.7 L1305.7 965.2 L1308.0 959.2 L1310.9 971.9 L1312.4 965.2 L1313.7 950.0 L1315.8 938.7 L1317.7 917.8 L1319.0 913.0 L1320.6 921.6 L1321.9 913.6 L1323.8 923.5 L1325.7 915.9 L1328.0 928.2 L1330.0 921.6 L1331.4 915.5 L1332.9 920.6 L1334.8 914.9 L1336.7 908.3 L1338.0 902.6 L1339.9 909.2 L1341.8 914.0 L1343.7 909.8 L1346.2 910.5 L1348.5 913.6 L1350.4 916.8 L1352.6 915.9 L1355.1 919.7 L1357.0 923.5 L1359.5 927.6 L1362.1 934.5 L1364.0 929.2 L1365.9 921.2 L1368.4 930.1 L1370.9 936.8 L1373.2 950.0 L1374.7 962.4 L1377.0 959.5 L1378.9 959.2 L1381.3 961.4 L1383.7 962.4 L1385.3 970.9 L1386.6 975.7 L1388.5 970.0 L1389.8 970.9 L1391.0 982.3 L1392.3 990.9 L1393.8 989.9 L1395.1 975.7 L1397.0 962.4 L1398.0 961.4 L1399.9 972.8 L1401.4 969.0 L1402.7 972.8 L1404.1 955.7 L1405.6 951.0 L1408.4 950.0 L1410.0 957.6 L1411.3 962.4 L1414.1 969.0 L1416.0 970.0 L1419.4 969.0 L1420.8 957.6 L1422.3 951.6 L1423.6 956.7 L1425.5 968.1 L1426.9 978.5 L1428.0 991.8 L1428.9 1001.3 L1430.3 1008.0 L1431.8 1001.3 L1433.5 988.0 L1435.0 987.1 L1436.5 978.5 L1437.9 969.0 L1439.8 975.7 L1441.7 971.9 L1443.6 972.8 L1446.4 969.0 L1448.9 963.3 L1450.2 961.8 L1452.7 962.4 L1454.4 968.1 L1455.9 972.5 L1458.4 972.5 L1460.3 963.3 L1461.6 951.9 L1462.6 942.5 L1465.4 945.3 L1466.4 921.6 L1467.7 893.1 L1469.2 881.7 L1471.1 880.7 L1472.4 893.1 L1474.5 888.3 L1475.9 900.7 L1477.4 913.0 L1479.1 908.3 L1480.2 893.1 L1481.6 889.3 L1483.1 903.5 L1484.4 912.1 L1486.3 915.5 L1488.8 914.9 L1490.5 920.6 L1493.0 917.8 L1494.3 909.2 L1495.4 908.3 L1496.4 923.5 L1498.1 927.3 L1500.2 923.5 L1501.5 914.9 L1502.5 914.0 L1504.0 921.6 L1506.2 923.8 L1508.5 921.6 L1510.6 918.7 L1511.9 912.1 L1512.9 893.1 L1514.2 895.9 L1516.7 892.1 L1518.0 904.5 L1519.5 914.0 L1521.4 917.8 L1523.7 915.9 L1526.2 919.7 L1528.1 922.5 L1530.0 920.6 L1531.9 916.8 L1533.8 916.8 L1535.1 930.1 L1536.6 929.2 L1538.5 913.0 L1540.1 929.2 L1542.0 931.1 L1543.9 930.7 L1545.2 929.2 L1547.1 934.9 L1548.4 931.1 L1549.9 918.7 L1550.9 914.9 L1552.2 925.4 L1553.7 932.0 L1555.6 924.4 L1557.0 922.5 L1558.5 936.8 L1560.4 949.1 L1561.9 936.8 L1563.2 925.4 L1565.5 930.1 L1567.0 929.2 L1568.5 935.8 L1569.9 940.9 L1571.8 936.8 L1572.7 932.0 L1574.6 935.8 L1577.1 930.1 L1578.4 933.9 L1580.3 929.2 L1582.2 925.4 L1584.1 919.7 L1586.0 916.8 L1587.5 914.9 L1588.9 924.4 L1590.8 926.9 L1594.6 926.9 L1596.1 918.7 L1597.4 916.8 L1599.3 921.6 L1601.2 916.8 L1602.7 915.9 L1604.1 917.8 L1606.0 915.9 L1606.9 911.1 L1609.2 906.0 L1611.7 909.8 L1614.1 909.8 L1616.4 905.4 L1618.7 907.3 L1621.2 914.0 L1623.1 914.0 L1625.0 918.7 L1626.9 921.9 L1628.8 919.7 L1629.7 914.9 L1632.0 913.0 L1633.9 914.0 L1635.4 907.3 L1636.9 914.0 L1638.3 907.3 L1640.2 909.2 L1643.0 908.6 L1644.9 910.2 L1646.4 917.8 L1647.7 919.7 L1650.6 918.7 L1653.4 917.8 L1655.3 910.2 L1656.3 898.8 L1658.2 897.8 L1660.1 890.2 L1662.0 888.3 L1663.9 887.4 L1666.2 885.1 L1667.7 893.1 L1669.2 900.7 L1671.1 895.9 L1672.4 891.2 L1674.3 893.1 L1676.2 891.2 L1678.1 888.9 L1681.0 886.4 L1682.9 879.8 L1685.2 883.6 L1686.7 889.6 L1689.5 889.3 L1691.4 887.7 L1693.3 890.2 L1695.2 888.3 L1696.2 896.9 L1697.7 891.2 L1700.0 898.8 L1701.9 901.6 L1703.4 903.5 L1705.3 896.9 L1706.6 890.2 L1708.0 898.8 L1709.9 906.4 L1711.4 898.8 L1712.9 891.2 L1714.8 887.4 L1717.1 885.5 L1719.0 887.7 L1720.5 891.2 L1722.8 884.5 L1724.7 882.6 L1726.6 887.4 L1728.5 886.4 L1730.8 890.2 L1732.6 896.9 L1734.2 899.7 L1736.1 895.0 L1738.0 889.3 L1739.9 882.6 L1741.8 876.9 L1743.3 874.5 L1745.2 875.0 L1746.5 882.6 L1748.4 883.6 L1750.3 882.6 L1753.2 884.5 L1756.0 882.6 L1757.9 881.7 L1758.9 868.4 L1760.8 860.3 L1762.5 851.2 L1763.6 845.5 L1764.8 843.8 L1766.2 843.0 L1767.0 850.0 L1767.9 862.6 L1768.7 867.1 L1770.1 866.6 L1771.0 858.0 L1771.9 847.2 L1773.1 847.5 L1773.9 858.0 L1775.0 852.3 L1776.2 850.0 L1777.3 851.2 L1778.4 850.0 L1779.6 858.0 L1780.7 854.6 L1781.9 858.9 L1782.6 848.3 L1784.1 848.3 L1785.3 854.6 L1786.4 852.3 L1788.1 853.4 L1789.5 859.1 L1791.0 866.0 L1792.7 872.3 L1794.0 870.0 L1795.5 863.7 L1796.7 858.0 L1798.4 856.9 L1799.7 854.6 L1801.2 850.6 L1802.9 849.5 L1804.3 849.1 L1805.2 853.4 L1806.9 856.9 L1807.8 860.9 L1809.2 858.0 L1810.9 856.9 L1812.6 856.9 L1814.1 858.0 L1815.2 862.6 L1816.0 874.0 L1816.8 883.1 L1817.7 889.9 L1818.9 894.5 L1820.6 895.6 L1821.7 888.8 L1822.9 886.5 L1823.7 899.6 L1824.8 894.5 L1825.7 891.1 L1826.9 898.5 L1828.0 893.9 L1829.4 900.2 L1830.3 891.1 L1831.4 890.5 L1832.6 894.5 L1833.7 899.6 L1834.8 903.0 L1836.0 891.1 L1837.1 889.9 L1838.5 892.8 L1839.6 896.8 L1840.8 892.2 L1842.8 893.3 L1844.5 895.0 L1846.0 899.0 L1847.4 905.3 L1848.5 907.0 L1849.7 896.8 L1850.6 886.5 L1851.4 885.9 L1852.5 888.8 L1854.2 891.1 L1855.4 889.9 L1856.3 900.2 L1857.2 910.0 L1858.1 914.4 L1859.9 910.0 L1861.1 901.3 L1862.2 898.5 L1863.9 900.7 L1865.6 898.5 L1867.3 897.9 L1868.5 893.9 L1869.6 892.2 L1871.3 893.3 L1872.5 888.8 L1873.8 887.1 L1875.3 887.6 L1877.0 887.1 L1878.1 888.8 L1879.5 883.1 L1881.0 886.5 L1882.1 887.6 L1883.8 886.5 L1885.6 884.8 L1886.4 879.7 L1887.8 876.2 L1889.0 880.2 L1890.7 877.4 L1891.6 868.3 L1892.4 856.9 L1893.5 850.0 L1895.2 848.9 L1897.3 848.3 L1898.7 856.9 L1900.0 862.0 L1901.5 858.6 L1902.6 851.2 L1903.4 837.5 L1904.4 834.6 L1905.5 844.3 L1906.6 855.7 L1907.8 855.5 L1909.1 850.0 L1910.6 842.1 L1912.3 836.4 L1913.5 831.8 L1913.8 817.0 L1913.9 805.6 L1913.9 800.1" stroke="#F23645" clip-path="url(#cBot)"/></g>
<line x1="20" y1="801" x2="1930" y2="801" stroke="#F23645" stroke-width="2" stroke-dasharray="2 4" clip-path="url(#cPane)"/>
<g clip-path="url(#cPane2)">
<text x="19.79" y="39.6" style="font-size:24.2px;letter-spacing:0.858px;fill:#131722;stroke:#131722;stroke-width:0.25px">christiana9</text>
<text x="151.87" y="39.6" style="font-size:24.2px;letter-spacing:0.916px;fill:#131722;stroke:#131722;stroke-width:0.25px">published</text>
<text x="269.64" y="39.6" style="font-size:24.2px;letter-spacing:1.333px;fill:#131722;stroke:#131722;stroke-width:0.25px">on</text>
<text x="304.93" y="39.6" style="font-size:24.2px;letter-spacing:0.594px;fill:#131722;stroke:#131722;stroke-width:0.25px">TradingView.com,</text>
<text x="511.26" y="39.6" style="font-size:24.2px;letter-spacing:-0.108px;fill:#131722;stroke:#131722;stroke-width:0.25px">Feb</text>
<text x="558.6" y="39.6" style="font-size:24.2px;letter-spacing:-1.0px;fill:#131722;stroke:#131722;stroke-width:0.25px">17,</text>
<text x="596.34" y="39.6" style="font-size:24.2px;letter-spacing:1.508px;fill:#131722;stroke:#131722;stroke-width:0.25px">2023</text>
<text x="661.55" y="39.6" style="font-size:24.2px;letter-spacing:0.687px;fill:#131722;stroke:#131722;stroke-width:0.25px">14:33</text>
<text x="732.68" y="39.6" style="font-size:24.2px;letter-spacing:-0.286px;fill:#131722;stroke:#131722;stroke-width:0.25px">UTC</text>
<text x="35.76" y="94" style="font-size:24.2px;letter-spacing:0.949px;fill:#131722;stroke:#131722;stroke-width:0.25px">Bitcoin</text>
<text x="122.05" y="94" style="font-size:24.2px;letter-spacing:0px;fill:#131722;stroke:#131722;stroke-width:0.25px">/</text>
<text x="134.5" y="94" style="font-size:24.2px;letter-spacing:0.018px;fill:#131722;stroke:#131722;stroke-width:0.25px">U.S.</text>
<text x="187.93" y="94" style="font-size:24.2px;letter-spacing:0.482px;fill:#131722;stroke:#131722;stroke-width:0.25px">Dollar,</text>
<text x="264.37" y="94" style="font-size:24.2px;letter-spacing:-0.31px;fill:#131722;stroke:#131722;stroke-width:0.25px">1,</text>
<text x="291.09" y="94" style="font-size:24.2px;letter-spacing:-0.208px;fill:#131722;stroke:#131722;stroke-width:0.25px">BITSTAMP</text>
<text x="422.5" y="94" style="font-size:24.2px;letter-spacing:1.401px;fill:#F23645;stroke:#F23645;stroke-width:0.25px">23986.00</text>
<text x="547.02" y="94" style="font-size:24.2px;letter-spacing:1.237px;fill:#F23645;stroke:#F23645;stroke-width:0.25px">+64.00</text>
<text x="636.93" y="94" style="font-size:24.2px;letter-spacing:0.594px;fill:#F23645;stroke:#F23645;stroke-width:0.25px">(+0.27%)</text>
<text x="37.26" y="127.7" style="font-size:24.2px;letter-spacing:0.261px;fill:#131722;stroke:#131722;stroke-width:0.25px">Vol</text>
<text x="77.68" y="127.7" style="font-size:24.2px;letter-spacing:0px;fill:#131722;stroke:#131722;stroke-width:0.25px">·</text>
<text x="92.17" y="127.7" style="font-size:24.2px;letter-spacing:-0.557px;fill:#131722;stroke:#131722;stroke-width:0.25px">BTC</text>
<text x="153.42" y="127.7" style="font-size:24.2px;letter-spacing:2.361px;fill:#26A69A;stroke:#26A69A;stroke-width:0.25px">30</text>
<text x="1949.8" y="89.2" style="font-size:24.2px;letter-spacing:-0.4px;fill:#131722;stroke:#131722;stroke-width:0.25px">USD</text>
<text x="66.72" y="1297.1" style="font-size:26.5px;letter-spacing:0.214px;fill:#131722;stroke:#131722;stroke-width:0.35px">TradingView</text>
<text x="740.4" y="1233.9" style="font-size:24.8px;letter-spacing:2.214px;fill:#131722;font-weight:700">17</text>
<text x="1950.62" y="194.2" style="font-size:24.8px;letter-spacing:1.175px;fill:#131722">25200.00</text>
<text x="1950.62" y="295.6" style="font-size:24.8px;letter-spacing:1.175px;fill:#131722">25000.00</text>
<text x="1950.62" y="396.9" style="font-size:24.8px;letter-spacing:1.175px;fill:#131722">24800.00</text>
<text x="1950.62" y="498.2" style="font-size:24.8px;letter-spacing:1.175px;fill:#131722">24600.00</text>
<text x="1950.62" y="599.6" style="font-size:24.8px;letter-spacing:1.175px;fill:#131722">24400.00</text>
<text x="1950.62" y="700.9" style="font-size:24.8px;letter-spacing:1.175px;fill:#131722">24200.00</text>
<text x="1950.62" y="903.6" style="font-size:24.8px;letter-spacing:1.175px;fill:#131722">23800.00</text>
<text x="1950.62" y="1004.9" style="font-size:24.8px;letter-spacing:1.175px;fill:#131722">23600.00</text>
<text x="1950.62" y="1106.2" style="font-size:24.8px;letter-spacing:1.175px;fill:#131722">23400.00</text>
<text x="236.51" y="1233.9" style="font-size:24.8px;letter-spacing:0.807px;fill:#131722">18:00</text>
<text x="479.14" y="1233.9" style="font-size:24.8px;letter-spacing:1.106px;fill:#131722">21:00</text>
<text x="962.26" y="1233.9" style="font-size:24.8px;letter-spacing:1.164px;fill:#131722">03:00</text>
<text x="1195.26" y="1233.9" style="font-size:24.8px;letter-spacing:1.164px;fill:#131722">06:00</text>
<text x="1436.26" y="1233.9" style="font-size:24.8px;letter-spacing:1.164px;fill:#131722">09:00</text>
<text x="1675.51" y="1233.9" style="font-size:24.8px;letter-spacing:0.807px;fill:#131722">12:00</text>
<text x="1836.51" y="1233.9" style="font-size:24.8px;letter-spacing:0.807px;fill:#131722">14:00</text>
<text x="-8.49" y="1233.9" style="font-size:24.8px;letter-spacing:0.807px;fill:#131722">15:00</text>
</g>
<path d="M1930 1107h60a4 4 0 0 1 4 4v26a4 4 0 0 1-4 4h-60z" fill="#26A69A"/>
<path d="M1930 784h142a4 4 0 0 1 4 4v54a4 4 0 0 1-4 4h-142z" fill="#F23645"/>
<g clip-path="url(#cPane)"><circle cx="1914" cy="1170.9" r="23" fill="#fff"/><circle cx="1914" cy="1170.9" r="19.6" fill="#fff" stroke="#9C27B0" stroke-width="2.8"/><path d="M1919.5 1159.9L1921.1 1161.4L1914.7 1169.8L1922.6 1170.1L1908.9 1182.2L1907.1 1180.6L1913.6 1172.1L1905.3 1171.6Z" fill="#9C27B0"/></g>
<g clip-path="url(#cPane2)">
<text x="1950.57" y="1131.7" style="font-size:24.8px;letter-spacing:1.131px;fill:#fff">30</text>
<text x="1950.62" y="808.9" style="font-size:24.8px;letter-spacing:1.15px;fill:#fff">23986.00</text>
<text x="1950.74" y="837.0" style="font-size:24.8px;letter-spacing:1.016px;fill:#fff;fill-opacity:0.78">00:15</text>
</g>
<g fill="#131722"><path d="M20 1276.3H35.9V1295.4H27.6V1285.8H20z"/><circle cx="43.2" cy="1280.8" r="4.4"/><path d="M50.1 1276.3H59.1L51.1 1295.4H42.1z"/></g>
</svg></body></html>
